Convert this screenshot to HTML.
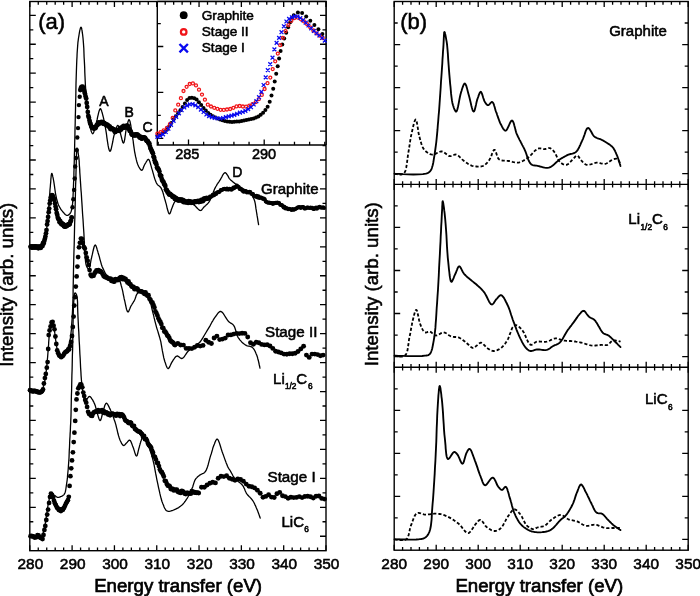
<!DOCTYPE html>
<html><head><meta charset="utf-8"><style>
html,body{margin:0;padding:0;background:#fff;}
svg{display:block;will-change:transform;}
text{font-family:"Liberation Sans", sans-serif;fill:#000;stroke:#000;stroke-width:0.55px;}
</style></head><body>
<svg width="700" height="596" viewBox="0 0 700 596">
<rect width="700" height="596" fill="#fff"/>
<path d="M29.80,550.7v-5.5M29.80,1.5v5.5M38.26,550.7v-3.2M38.26,1.5v3.2M46.73,550.7v-3.2M46.73,1.5v3.2M55.19,550.7v-3.2M55.19,1.5v3.2M63.65,550.7v-3.2M63.65,1.5v3.2M72.11,550.7v-5.5M72.11,1.5v5.5M80.58,550.7v-3.2M80.58,1.5v3.2M89.04,550.7v-3.2M89.04,1.5v3.2M97.50,550.7v-3.2M97.50,1.5v3.2M105.97,550.7v-3.2M105.97,1.5v3.2M114.43,550.7v-5.5M114.43,1.5v5.5M122.89,550.7v-3.2M122.89,1.5v3.2M131.35,550.7v-3.2M131.35,1.5v3.2M139.82,550.7v-3.2M139.82,1.5v3.2M148.28,550.7v-3.2M148.28,1.5v3.2M156.74,550.7v-5.5M156.74,1.5v5.5M165.21,550.7v-3.2M165.21,1.5v3.2M173.67,550.7v-3.2M173.67,1.5v3.2M182.13,550.7v-3.2M182.13,1.5v3.2M190.59,550.7v-3.2M190.59,1.5v3.2M199.06,550.7v-5.5M199.06,1.5v5.5M207.52,550.7v-3.2M207.52,1.5v3.2M215.98,550.7v-3.2M215.98,1.5v3.2M224.45,550.7v-3.2M224.45,1.5v3.2M232.91,550.7v-3.2M232.91,1.5v3.2M241.37,550.7v-5.5M241.37,1.5v5.5M249.83,550.7v-3.2M249.83,1.5v3.2M258.30,550.7v-3.2M258.30,1.5v3.2M266.76,550.7v-3.2M266.76,1.5v3.2M275.22,550.7v-3.2M275.22,1.5v3.2M283.69,550.7v-5.5M283.69,1.5v5.5M292.15,550.7v-3.2M292.15,1.5v3.2M300.61,550.7v-3.2M300.61,1.5v3.2M309.07,550.7v-3.2M309.07,1.5v3.2M317.54,550.7v-3.2M317.54,1.5v3.2M326.00,550.7v-5.5M326.00,1.5v5.5M29.8,536.23h6.0M326.0,536.23h-6.0M29.8,521.76h3.5M326.0,521.76h-3.5M29.8,507.29h6.0M326.0,507.29h-6.0M29.8,492.82h3.5M326.0,492.82h-3.5M29.8,478.35h6.0M326.0,478.35h-6.0M29.8,463.88h3.5M326.0,463.88h-3.5M29.8,449.41h6.0M326.0,449.41h-6.0M29.8,434.94h3.5M326.0,434.94h-3.5M29.8,420.47h6.0M326.0,420.47h-6.0M29.8,406.00h3.5M326.0,406.00h-3.5M29.8,391.53h6.0M326.0,391.53h-6.0M29.8,377.06h3.5M326.0,377.06h-3.5M29.8,362.59h6.0M326.0,362.59h-6.0M29.8,348.12h3.5M326.0,348.12h-3.5M29.8,333.65h6.0M326.0,333.65h-6.0M29.8,319.18h3.5M326.0,319.18h-3.5M29.8,304.71h6.0M326.0,304.71h-6.0M29.8,290.24h3.5M326.0,290.24h-3.5M29.8,275.77h6.0M326.0,275.77h-6.0M29.8,261.30h3.5M326.0,261.30h-3.5M29.8,246.83h6.0M326.0,246.83h-6.0M29.8,232.36h3.5M326.0,232.36h-3.5M29.8,217.89h6.0M326.0,217.89h-6.0M29.8,203.42h3.5M326.0,203.42h-3.5M29.8,188.95h6.0M326.0,188.95h-6.0M29.8,174.48h3.5M326.0,174.48h-3.5M29.8,160.01h6.0M326.0,160.01h-6.0M29.8,145.54h3.5M326.0,145.54h-3.5M29.8,131.07h6.0M326.0,131.07h-6.0M29.8,116.60h3.5M326.0,116.60h-3.5M29.8,102.13h6.0M326.0,102.13h-6.0M29.8,87.66h3.5M326.0,87.66h-3.5M29.8,73.19h6.0M326.0,73.19h-6.0M29.8,58.72h3.5M326.0,58.72h-3.5M29.8,44.25h6.0M326.0,44.25h-6.0M29.8,29.78h3.5M326.0,29.78h-3.5M29.8,15.31h6.0M326.0,15.31h-6.0" stroke="#000" stroke-width="1.3" fill="none"/>
<rect x="29.8" y="1.5" width="296.2" height="549.2" fill="none" stroke="#000" stroke-width="1.4"/>
<text x="30.4" y="568.6" font-size="15.4" font-weight="normal" text-anchor="middle" >280</text>
<text x="72.7" y="568.6" font-size="15.4" font-weight="normal" text-anchor="middle" >290</text>
<text x="115.0" y="568.6" font-size="15.4" font-weight="normal" text-anchor="middle" >300</text>
<text x="157.3" y="568.6" font-size="15.4" font-weight="normal" text-anchor="middle" >310</text>
<text x="199.7" y="568.6" font-size="15.4" font-weight="normal" text-anchor="middle" >320</text>
<text x="242.0" y="568.6" font-size="15.4" font-weight="normal" text-anchor="middle" >330</text>
<text x="284.3" y="568.6" font-size="15.4" font-weight="normal" text-anchor="middle" >340</text>
<text x="326.6" y="568.6" font-size="15.4" font-weight="normal" text-anchor="middle" >350</text>
<text x="94.2" y="592.0" font-size="18.65" font-weight="normal" text-anchor="start" style="stroke-width:0.7px">Energy transfer (eV)</text>
<text transform="translate(13.4,366.8) rotate(-90)" x="0" y="0" font-size="18.7">Intensity (arb. units)</text>
<text x="38.3" y="28.7" font-size="22" font-weight="normal" text-anchor="start" >(a)</text>
<polyline points="30.0,247.3 30.3,247.3 31.2,247.5 32.5,247.6 34.1,247.7 35.8,247.8 37.4,247.8 38.9,247.6 40.0,247.3 40.7,246.9 41.3,246.4 41.9,245.8 42.3,245.1 42.8,244.4 43.2,243.6 43.6,242.8 44.0,242.0 44.5,240.8 44.9,239.5 45.2,238.0 45.5,236.5 45.8,235.0 46.0,233.4 46.2,231.7 46.5,230.0 46.8,227.8 47.1,225.4 47.4,223.0 47.6,220.5 47.8,217.9 48.0,215.3 48.3,212.7 48.5,210.0 48.8,206.8 49.0,203.5 49.3,200.0 49.5,196.5 49.8,193.1 50.0,189.8 50.3,186.7 50.5,184.0 50.7,182.3 50.8,180.5 50.9,178.8 51.1,177.1 51.2,175.6 51.4,174.5 51.6,173.7 51.8,173.4 52.0,173.6 52.2,174.0 52.4,174.8 52.6,175.7 52.8,176.7 53.1,177.8 53.3,178.9 53.5,180.0 53.8,181.7 54.1,183.6 54.4,185.7 54.7,187.8 55.0,190.0 55.3,192.1 55.6,194.1 56.0,196.0 56.3,197.4 56.6,198.7 57.0,200.1 57.3,201.3 57.7,202.6 58.1,203.8 58.5,204.9 59.0,206.0 59.4,206.9 59.9,207.7 60.4,208.5 60.9,209.3 61.4,210.0 61.9,210.7 62.5,211.4 63.0,212.0 63.5,212.5 64.0,213.1 64.5,213.7 65.0,214.2 65.5,214.7 66.0,215.0 66.5,215.3 67.0,215.4 67.4,215.4 67.8,215.3 68.2,215.1 68.6,214.8 69.0,214.6 69.3,214.2 69.7,213.9 70.0,213.5 70.4,213.0 70.7,212.5 70.9,211.9 71.2,211.2 71.4,210.5 71.6,209.7 71.8,208.9 72.0,208.0 72.3,205.9 72.6,203.4 72.8,200.6 73.0,197.6 73.1,194.4 73.3,191.2 73.4,188.0 73.5,185.0 73.6,182.0 73.8,179.0 73.9,176.1 73.9,173.1 74.0,170.1 74.1,166.9 74.2,163.5 74.3,160.0 74.4,154.6 74.6,148.7 74.7,142.5 74.9,136.1 75.0,129.5 75.2,122.9 75.3,116.4 75.5,110.0 75.6,103.6 75.8,97.0 75.9,90.4 76.0,83.7 76.2,77.3 76.4,71.1 76.6,65.3 76.8,60.0 77.0,56.8 77.1,53.7 77.3,50.8 77.5,48.0 77.7,45.3 77.9,42.7 78.2,40.3 78.5,38.0 78.8,36.3 79.1,34.5 79.4,32.7 79.7,30.9 80.1,29.4 80.4,28.2 80.7,27.4 81.0,27.1 81.3,27.4 81.6,28.2 81.8,29.4 82.1,30.9 82.3,32.7 82.6,34.5 82.8,36.3 83.0,38.0 83.2,40.3 83.4,42.8 83.6,45.5 83.8,48.2 83.9,51.1 84.0,54.0 84.1,57.0 84.3,60.0 84.5,63.9 84.7,67.9 84.8,72.2 85.0,76.5 85.2,80.8 85.4,85.2 85.7,89.4 86.0,93.6 86.3,97.6 86.7,101.7 87.0,105.8 87.4,109.8 87.8,113.8 88.3,117.5 88.8,120.8 89.4,123.8 89.8,125.5 90.2,127.2 90.6,128.9 91.0,130.4 91.4,131.8 91.9,132.8 92.3,133.5 92.7,133.8 93.1,133.5 93.5,132.8 93.9,131.7 94.3,130.3 94.8,128.7 95.2,127.1 95.6,125.5 96.0,124.0 96.5,122.0 97.1,119.7 97.6,117.2 98.2,114.7 98.7,112.4 99.3,110.5 99.8,109.2 100.3,108.7 100.7,108.9 101.0,109.4 101.4,110.3 101.7,111.3 102.1,112.5 102.4,113.7 102.7,114.9 103.0,116.0 103.3,117.2 103.6,118.5 103.9,119.8 104.2,121.1 104.4,122.4 104.7,123.9 105.0,125.4 105.3,127.0 105.8,129.9 106.4,133.6 106.9,137.6 107.5,141.6 108.1,145.4 108.7,148.5 109.4,150.6 110.0,151.4 110.5,150.9 111.1,149.3 111.6,147.1 112.2,144.4 112.8,141.5 113.3,138.6 113.9,135.9 114.5,133.8 114.9,132.5 115.3,131.1 115.7,129.7 116.2,128.3 116.6,127.2 117.0,126.2 117.5,125.6 117.9,125.4 118.6,126.2 119.3,128.2 120.0,131.0 120.7,134.3 121.5,137.5 122.2,140.3 122.8,142.3 123.4,143.0 123.9,142.5 124.3,141.2 124.7,139.3 125.0,137.1 125.4,134.6 125.7,132.1 126.1,129.9 126.5,128.0 126.8,126.7 127.1,125.3 127.5,123.9 127.8,122.6 128.1,121.4 128.5,120.4 128.8,119.8 129.1,119.6 129.5,120.1 130.0,121.5 130.4,123.5 130.9,126.0 131.3,128.8 131.7,131.6 132.1,134.3 132.5,136.7 132.8,138.8 133.2,141.0 133.4,143.2 133.7,145.3 134.0,147.4 134.3,149.5 134.6,151.6 135.0,153.5 135.3,155.1 135.6,156.7 136.0,158.2 136.3,159.7 136.7,161.2 137.1,162.5 137.5,163.8 138.0,165.0 138.4,165.9 138.8,166.8 139.3,167.7 139.8,168.5 140.3,169.2 140.8,169.8 141.3,170.2 141.7,170.3 142.1,170.1 142.6,169.5 143.0,168.8 143.3,167.8 143.7,166.8 144.1,165.8 144.6,164.8 145.0,164.0 145.4,163.3 145.9,162.5 146.3,161.8 146.8,161.0 147.2,160.3 147.7,159.8 148.1,159.5 148.5,159.4 149.0,159.7 149.4,160.4 149.8,161.5 150.2,162.8 150.6,164.2 151.0,165.7 151.4,167.2 151.8,168.6 152.4,170.4 152.9,172.3 153.5,174.4 154.1,176.6 154.7,178.6 155.4,180.6 156.1,182.3 156.8,183.7 157.3,184.4 157.8,184.9 158.4,185.4 158.9,185.8 159.5,186.2 160.0,186.7 160.5,187.2 161.0,187.9 161.6,189.1 162.2,190.5 162.8,192.1 163.3,193.7 163.7,195.4 164.2,197.1 164.7,198.9 165.2,200.5 165.7,202.3 166.3,204.4 166.8,206.7 167.3,208.8 167.9,210.8 168.4,212.4 168.9,213.5 169.4,213.9 169.7,213.7 170.1,213.3 170.4,212.6 170.7,211.7 171.0,210.8 171.3,209.8 171.7,208.8 172.0,208.0 172.4,207.1 172.7,206.2 173.0,205.3 173.4,204.4 173.8,203.5 174.2,202.7 174.7,201.9 175.3,201.3 176.0,200.8 176.7,200.3 177.6,199.9 178.5,199.6 179.4,199.3 180.3,199.2 181.2,199.0 182.0,199.0 182.8,199.0 183.5,199.2 184.3,199.4 185.0,199.7 185.8,200.0 186.5,200.3 187.3,200.6 188.0,201.0 188.7,201.4 189.5,201.8 190.2,202.2 190.9,202.7 191.6,203.1 192.4,203.6 193.1,204.2 193.8,204.7 194.6,205.4 195.5,206.3 196.4,207.3 197.3,208.2 198.2,209.1 199.0,209.9 199.8,210.3 200.5,210.5 201.0,210.4 201.5,210.1 201.9,209.7 202.3,209.2 202.7,208.7 203.1,208.1 203.5,207.5 204.0,207.0 204.6,206.5 205.2,205.9 205.8,205.4 206.4,204.8 207.1,204.3 207.7,203.6 208.3,202.9 208.9,202.1 209.8,200.6 210.7,198.8 211.5,196.8 212.3,194.7 213.2,192.6 214.0,190.5 214.8,188.6 215.6,187.0 216.2,186.0 216.7,185.1 217.2,184.2 217.8,183.4 218.3,182.6 218.9,181.8 219.4,181.0 220.0,180.2 220.6,179.2 221.2,178.0 221.9,176.8 222.5,175.5 223.2,174.4 223.8,173.5 224.5,172.9 225.1,172.7 225.7,172.9 226.3,173.5 226.9,174.3 227.6,175.3 228.2,176.4 228.8,177.6 229.4,178.6 230.1,179.4 230.7,180.0 231.3,180.6 231.9,181.1 232.5,181.6 233.1,182.1 233.8,182.6 234.4,183.1 235.1,183.6 235.9,184.1 236.7,184.7 237.5,185.2 238.3,185.7 239.2,186.2 240.0,186.7 240.9,187.2 241.8,187.8 242.9,188.5 244.2,189.3 245.4,190.1 246.7,191.0 248.0,191.8 249.1,192.7 250.2,193.6 251.1,194.5 251.7,195.2 252.2,195.8 252.6,196.5 253.0,197.2 253.4,197.9 253.8,198.7 254.1,199.4 254.4,200.3 254.8,201.5 255.1,202.9 255.4,204.3 255.6,205.8 255.8,207.4 256.0,208.9 256.3,210.5 256.5,212.0 256.8,213.7 257.1,215.7 257.5,217.8 257.8,219.9 258.1,221.8 258.4,223.3 258.5,224.3 258.6,224.7" fill="none" stroke="#000" stroke-width="1.3" stroke-linejoin="round" stroke-linecap="round"/>
<polyline points="30.0,391.5 30.4,391.6 31.4,391.7 32.9,391.9 34.6,392.1 36.5,392.2 38.3,392.2 39.9,392.0 41.0,391.5 41.7,390.9 42.2,390.2 42.6,389.3 42.9,388.3 43.2,387.2 43.5,386.2 43.7,385.1 44.0,384.0 44.3,382.8 44.6,381.5 44.9,380.2 45.1,378.9 45.4,377.5 45.6,376.1 45.8,374.6 46.0,373.0 46.3,370.7 46.6,368.2 46.8,365.6 47.1,362.9 47.3,360.1 47.6,357.3 47.8,354.6 48.0,352.0 48.2,349.5 48.4,347.0 48.6,344.5 48.7,342.0 48.9,339.6 49.1,337.2 49.3,335.0 49.5,333.0 49.7,331.7 49.8,330.4 50.0,329.2 50.2,328.0 50.4,326.9 50.6,325.8 50.8,324.9 51.0,324.0 51.1,323.5 51.3,323.0 51.5,322.5 51.6,322.0 51.8,321.6 52.0,321.3 52.1,321.1 52.3,321.0 52.5,321.2 52.7,321.7 53.0,322.5 53.2,323.5 53.4,324.6 53.6,325.8 53.8,326.9 54.0,328.0 54.3,329.5 54.5,331.2 54.8,333.0 55.0,334.8 55.2,336.7 55.5,338.6 55.7,340.3 56.0,342.0 56.2,343.4 56.4,344.7 56.6,346.1 56.8,347.4 57.0,348.7 57.3,349.9 57.6,351.0 58.0,352.0 58.3,352.7 58.6,353.3 59.0,354.0 59.4,354.6 59.8,355.1 60.2,355.5 60.6,355.8 61.0,356.0 61.4,356.0 61.7,355.9 62.1,355.7 62.5,355.4 62.9,355.0 63.3,354.7 63.7,354.3 64.0,354.0 64.3,353.7 64.7,353.3 65.0,353.0 65.3,352.6 65.6,352.3 65.9,351.9 66.2,351.4 66.5,351.0 66.8,350.5 67.1,349.9 67.3,349.3 67.6,348.7 67.8,348.0 68.1,347.4 68.3,346.7 68.5,346.0 68.8,345.2 69.0,344.4 69.2,343.6 69.5,342.8 69.7,341.9 69.9,341.0 70.1,340.0 70.3,338.8 70.7,336.1 71.0,333.0 71.4,329.4 71.6,325.6 71.9,321.6 72.2,317.5 72.4,313.4 72.6,309.4 72.8,304.8 72.9,300.2 73.1,295.5 73.1,290.8 73.2,285.9 73.3,280.8 73.4,275.5 73.5,270.0 73.7,262.0 73.9,253.3 74.2,244.2 74.4,234.7 74.6,225.4 74.9,216.3 75.1,207.7 75.3,200.0 75.4,195.0 75.5,190.1 75.6,185.4 75.8,181.0 75.9,176.7 76.0,172.6 76.1,168.7 76.2,165.0 76.3,162.4 76.3,159.5 76.4,156.7 76.5,154.0 76.6,151.6 76.7,149.7 76.8,148.5 77.0,148.0 77.2,148.2 77.3,148.7 77.5,149.4 77.7,150.4 77.9,151.5 78.1,152.7 78.3,153.9 78.5,155.0 78.7,157.0 79.0,159.2 79.2,161.6 79.3,164.2 79.5,166.9 79.7,169.6 79.8,172.3 80.0,175.0 80.2,178.0 80.4,180.9 80.6,183.9 80.8,187.0 81.0,190.1 81.3,193.3 81.5,196.6 81.7,200.0 82.0,204.4 82.3,209.2 82.6,214.2 83.0,219.2 83.3,224.2 83.6,229.0 83.9,233.5 84.1,237.6 84.2,240.1 84.3,242.5 84.4,244.8 84.5,247.0 84.6,249.1 84.7,251.1 84.8,253.1 85.0,255.0 85.1,256.5 85.3,258.1 85.4,259.6 85.5,261.1 85.7,262.5 85.9,263.8 86.2,265.0 86.5,266.0 86.7,266.5 87.0,267.1 87.3,267.6 87.6,268.1 87.9,268.5 88.2,268.8 88.5,269.0 88.8,269.0 89.2,268.6 89.6,267.7 89.9,266.4 90.2,264.8 90.5,263.1 90.8,261.3 91.1,259.6 91.5,258.0 91.9,256.2 92.4,254.2 92.8,252.1 93.3,250.0 93.8,248.0 94.2,246.5 94.7,245.4 95.2,245.0 95.6,245.2 96.0,245.9 96.4,246.9 96.8,248.2 97.2,249.7 97.7,251.2 98.1,252.7 98.5,254.0 99.0,255.6 99.5,257.3 99.9,259.1 100.4,260.9 100.9,262.7 101.4,264.5 102.0,266.2 102.7,267.9 103.5,269.5 104.3,271.2 105.1,272.9 106.1,274.6 107.0,276.1 108.0,277.5 109.1,278.5 110.2,279.2 111.1,279.4 112.1,279.3 113.1,278.9 114.1,278.5 115.2,278.1 116.1,277.8 117.0,277.7 117.8,277.9 118.5,278.5 119.1,279.3 119.6,280.3 120.1,281.5 120.5,282.8 120.9,284.2 121.2,285.5 121.6,286.8 122.0,288.3 122.4,289.9 122.8,291.6 123.1,293.3 123.4,295.0 123.8,296.7 124.1,298.4 124.5,300.0 124.9,301.7 125.3,303.6 125.7,305.5 126.1,307.4 126.5,309.2 127.0,310.6 127.4,311.5 127.9,311.9 128.3,311.8 128.6,311.3 129.0,310.6 129.4,309.7 129.8,308.8 130.2,307.8 130.6,306.8 131.0,306.0 131.4,305.3 131.9,304.5 132.3,303.8 132.8,303.0 133.3,302.3 133.7,301.5 134.2,300.8 134.6,300.0 135.0,299.1 135.4,298.1 135.7,297.1 136.0,296.1 136.4,295.1 136.8,294.3 137.3,293.5 137.9,293.0 138.7,292.6 139.6,292.4 140.6,292.2 141.7,292.1 142.7,292.2 143.8,292.4 144.7,292.6 145.5,293.0 146.2,293.5 146.8,294.2 147.3,295.0 147.8,295.9 148.3,296.9 148.7,297.9 149.1,298.9 149.5,300.0 150.0,301.4 150.5,303.0 151.0,304.6 151.4,306.3 151.8,308.1 152.2,309.8 152.6,311.5 153.0,313.2 153.4,314.7 153.8,316.2 154.1,317.7 154.5,319.1 154.8,320.6 155.2,322.1 155.6,323.6 156.0,325.2 156.5,327.1 157.1,329.1 157.8,331.1 158.4,333.2 159.0,335.2 159.6,337.2 160.1,339.1 160.6,340.9 160.9,342.2 161.1,343.4 161.3,344.6 161.5,345.7 161.7,346.9 161.9,348.0 162.1,349.2 162.3,350.4 162.6,351.8 162.9,353.3 163.2,354.8 163.5,356.4 163.8,357.9 164.2,359.3 164.6,360.7 165.0,362.0 165.4,363.0 165.7,364.1 166.1,365.2 166.5,366.2 166.9,367.2 167.3,367.9 167.8,368.4 168.2,368.6 168.6,368.4 169.1,367.9 169.5,367.1 170.0,366.1 170.5,365.0 171.0,363.9 171.5,362.9 172.0,362.0 172.6,361.2 173.1,360.2 173.7,359.3 174.4,358.4 175.0,357.5 175.7,356.8 176.3,356.3 177.0,356.0 177.6,356.0 178.2,356.3 178.8,356.7 179.5,357.3 180.1,357.8 180.7,358.2 181.4,358.5 182.0,358.5 182.8,358.1 183.5,357.5 184.3,356.6 185.0,355.5 185.8,354.3 186.6,353.1 187.4,352.0 188.3,351.0 189.5,350.0 190.8,348.9 192.2,347.8 193.7,346.8 195.1,345.8 196.4,344.9 197.5,344.1 198.4,343.4 198.7,343.2 198.9,343.0 199.1,342.9 199.2,342.8 199.4,342.6 199.6,342.5 199.8,342.3 200.0,342.0 200.8,341.0 201.7,339.6 202.8,337.9 203.9,336.0 205.1,334.0 206.3,332.0 207.4,330.1 208.5,328.3 209.4,326.8 210.3,325.3 211.1,323.7 211.9,322.2 212.8,320.8 213.6,319.4 214.4,318.1 215.3,316.9 216.0,316.0 216.6,315.1 217.3,314.1 218.0,313.2 218.6,312.5 219.3,311.9 220.0,311.5 220.7,311.4 221.6,311.8 222.6,312.7 223.5,313.9 224.5,315.5 225.5,317.1 226.5,318.7 227.5,320.2 228.4,321.3 229.1,321.9 229.8,322.5 230.5,322.9 231.2,323.4 231.9,323.8 232.6,324.3 233.2,324.9 233.8,325.6 234.5,326.8 235.0,328.2 235.5,329.8 236.0,331.4 236.4,333.1 236.9,334.7 237.5,336.2 238.2,337.6 239.0,338.7 239.8,339.9 240.8,340.9 241.7,341.9 242.8,342.9 243.8,343.8 244.8,344.5 245.8,345.2 246.6,345.6 247.5,345.9 248.3,346.1 249.2,346.2 250.0,346.4 250.8,346.6 251.6,346.9 252.3,347.4 253.0,348.1 253.7,348.9 254.3,349.8 254.8,350.7 255.3,351.8 255.8,352.9 256.2,354.0 256.7,355.1 257.3,356.7 257.8,358.7 258.4,360.8 258.9,363.0 259.3,365.0 259.7,366.6 259.9,367.7 260.0,368.1" fill="none" stroke="#000" stroke-width="1.3" stroke-linejoin="round" stroke-linecap="round"/>
<polyline points="30.0,537.0 30.4,537.1 31.4,537.2 32.9,537.4 34.7,537.5 36.6,537.6 38.4,537.6 39.9,537.4 41.0,537.0 41.5,536.6 42.0,536.1 42.3,535.5 42.6,534.9 42.8,534.3 43.0,533.5 43.3,532.8 43.5,532.0 43.9,530.7 44.2,529.2 44.6,527.7 44.9,526.0 45.2,524.3 45.4,522.5 45.7,520.7 46.0,519.0 46.3,517.1 46.6,515.0 46.9,512.9 47.2,510.8 47.5,508.8 47.8,506.7 48.1,504.8 48.5,503.0 48.8,501.6 49.1,500.1 49.3,498.6 49.6,497.1 49.9,495.8 50.3,494.7 50.7,493.9 51.2,493.5 51.5,493.4 51.8,493.5 52.2,493.7 52.5,493.9 52.9,494.2 53.3,494.5 53.6,494.8 54.0,495.0 54.4,495.3 54.9,495.6 55.4,496.0 55.8,496.4 56.3,496.7 56.8,497.0 57.2,497.3 57.7,497.4 58.1,497.4 58.5,497.4 58.9,497.3 59.4,497.2 59.8,497.0 60.2,496.9 60.6,496.7 61.0,496.5 61.4,496.3 61.9,496.1 62.3,495.9 62.8,495.6 63.2,495.3 63.6,495.0 64.0,494.6 64.3,494.2 64.7,493.4 65.1,492.5 65.4,491.5 65.6,490.5 65.8,489.3 66.0,488.0 66.2,486.7 66.4,485.4 66.7,483.1 67.1,480.6 67.4,477.9 67.6,475.1 67.9,472.2 68.2,469.3 68.4,466.4 68.6,463.6 68.8,460.9 69.0,458.2 69.1,455.4 69.2,452.7 69.3,450.0 69.5,447.3 69.6,444.5 69.7,441.8 69.8,439.1 70.0,436.5 70.1,433.9 70.3,431.3 70.4,428.7 70.5,425.9 70.7,423.0 70.8,420.0 71.0,415.6 71.1,410.8 71.2,405.9 71.3,400.8 71.4,395.5 71.6,390.3 71.7,385.1 71.8,380.0 71.9,375.0 72.1,369.9 72.2,364.9 72.3,359.8 72.4,354.8 72.6,349.8 72.7,344.9 72.8,340.0 72.9,335.4 73.0,330.7 73.0,325.9 73.1,321.2 73.2,316.7 73.3,312.4 73.4,308.5 73.6,305.0 73.7,303.0 73.8,301.0 74.0,299.0 74.1,297.1 74.2,295.5 74.4,294.2 74.7,293.3 75.0,292.9 75.2,292.9 75.4,293.0 75.6,293.3 75.9,293.6 76.1,293.9 76.3,294.4 76.5,294.8 76.7,295.3 77.1,296.8 77.3,298.8 77.5,301.1 77.6,303.7 77.6,306.5 77.7,309.4 77.8,312.4 77.9,315.3 78.1,319.2 78.3,323.3 78.5,327.7 78.8,332.1 79.0,336.6 79.2,341.2 79.5,345.6 79.7,350.0 79.9,354.3 80.2,358.7 80.4,363.2 80.6,367.6 80.9,371.9 81.1,375.9 81.4,379.7 81.7,383.0 81.9,384.8 82.1,386.5 82.3,388.1 82.5,389.6 82.8,391.0 83.0,392.4 83.3,393.7 83.5,395.0 83.7,396.0 83.9,397.1 84.0,398.2 84.2,399.3 84.4,400.2 84.6,401.0 84.8,401.5 85.1,401.7 85.3,401.6 85.5,401.4 85.7,401.1 86.0,400.7 86.2,400.3 86.5,399.8 86.7,399.4 87.0,399.0 87.3,398.6 87.6,398.2 87.9,397.8 88.3,397.4 88.6,397.0 88.9,396.7 89.3,396.5 89.6,396.4 89.9,396.5 90.2,396.7 90.5,396.9 90.8,397.3 91.1,397.7 91.4,398.1 91.7,398.6 92.0,399.0 92.4,399.6 92.8,400.2 93.1,400.9 93.5,401.6 93.9,402.3 94.2,403.1 94.6,403.9 94.9,404.7 95.3,405.8 95.6,406.9 95.9,408.1 96.2,409.3 96.5,410.5 96.8,411.7 97.2,412.9 97.5,414.0 97.8,415.0 98.1,416.1 98.5,417.2 98.8,418.2 99.2,419.2 99.5,419.9 99.9,420.4 100.2,420.6 100.6,420.3 100.9,419.6 101.2,418.6 101.6,417.4 101.9,416.0 102.3,414.6 102.6,413.2 103.0,412.0 103.4,410.8 103.8,409.4 104.1,408.0 104.5,406.5 104.9,405.3 105.4,404.2 105.8,403.5 106.3,403.2 106.8,403.4 107.4,403.9 107.9,404.8 108.5,405.9 109.1,407.1 109.7,408.4 110.3,409.6 110.8,410.8 111.4,412.1 112.0,413.6 112.6,415.0 113.1,416.5 113.7,418.1 114.2,419.7 114.8,421.3 115.3,422.9 115.9,424.9 116.4,427.1 117.0,429.3 117.5,431.6 118.0,433.8 118.6,435.9 119.2,437.8 119.8,439.5 120.2,440.5 120.7,441.5 121.2,442.5 121.6,443.4 122.1,444.2 122.6,444.8 123.1,445.3 123.6,445.5 124.0,445.5 124.3,445.3 124.7,445.0 125.0,444.6 125.4,444.2 125.8,443.8 126.1,443.4 126.5,443.0 126.9,442.6 127.3,442.2 127.7,441.7 128.1,441.2 128.5,440.8 128.9,440.4 129.3,440.2 129.7,440.2 130.2,440.5 130.6,441.0 131.0,441.8 131.4,442.8 131.8,443.8 132.2,444.9 132.6,446.0 133.0,447.0 133.5,448.2 133.9,449.6 134.4,451.1 134.8,452.6 135.3,454.0 135.7,455.1 136.1,455.8 136.5,456.1 136.9,455.8 137.2,455.2 137.5,454.2 137.8,453.0 138.1,451.7 138.4,450.4 138.7,449.1 139.0,448.0 139.3,447.1 139.5,446.2 139.7,445.3 140.0,444.4 140.2,443.5 140.5,442.7 140.7,441.8 141.0,441.0 141.3,440.2 141.6,439.3 141.9,438.4 142.2,437.6 142.5,436.8 142.8,436.2 143.1,435.7 143.5,435.5 143.8,435.5 144.1,435.7 144.4,435.9 144.8,436.3 145.1,436.7 145.4,437.1 145.7,437.6 146.0,438.0 146.4,438.7 146.7,439.5 147.0,440.4 147.3,441.3 147.6,442.3 147.9,443.3 148.2,444.4 148.5,445.5 149.0,447.0 149.5,448.7 150.1,450.4 150.7,452.2 151.3,454.0 151.8,455.9 152.4,457.8 152.9,459.8 153.5,462.3 154.1,464.9 154.6,467.6 155.1,470.4 155.6,473.2 156.2,476.0 156.7,478.8 157.3,481.6 157.9,484.4 158.5,487.3 159.2,490.3 159.8,493.2 160.5,496.1 161.2,498.8 161.9,501.2 162.7,503.4 163.2,504.6 163.7,505.8 164.1,507.0 164.6,508.1 165.2,509.0 165.7,509.9 166.4,510.5 167.1,511.0 167.8,511.2 168.5,511.3 169.3,511.3 170.2,511.1 171.0,510.9 171.9,510.6 172.8,510.3 173.6,510.0 174.6,509.6 175.6,509.2 176.6,508.7 177.6,508.2 178.6,507.6 179.5,506.9 180.4,506.3 181.3,505.6 182.1,504.9 182.8,504.2 183.5,503.4 184.2,502.6 184.8,501.7 185.5,500.9 186.1,499.9 186.7,499.0 187.5,497.8 188.2,496.5 188.9,495.1 189.6,493.7 190.3,492.3 191.0,490.8 191.6,489.4 192.2,488.1 192.7,487.0 193.0,485.8 193.4,484.6 193.7,483.5 194.1,482.4 194.5,481.3 194.9,480.3 195.4,479.4 195.9,478.7 196.4,478.1 196.9,477.6 197.4,477.0 198.0,476.5 198.6,476.0 199.2,475.6 199.8,475.1 200.4,474.7 201.1,474.3 201.8,474.0 202.5,473.7 203.2,473.4 203.9,473.0 204.6,472.4 205.2,471.8 206.1,470.4 206.9,468.6 207.6,466.5 208.3,464.2 208.9,461.9 209.5,459.6 210.1,457.4 210.7,455.4 211.2,454.0 211.6,452.6 212.0,451.2 212.4,449.9 212.7,448.6 213.1,447.3 213.6,446.1 214.0,445.0 214.4,444.1 214.8,443.1 215.1,442.1 215.5,441.2 215.9,440.3 216.4,439.7 216.8,439.2 217.2,439.1 217.8,439.5 218.5,440.7 219.2,442.4 219.9,444.5 220.6,446.8 221.3,449.1 222.0,451.3 222.7,453.3 223.4,455.1 224.1,457.1 224.8,459.1 225.5,461.0 226.2,462.9 226.9,464.6 227.5,466.2 228.1,467.4 228.4,467.9 228.6,468.3 228.8,468.6 229.0,468.9 229.2,469.2 229.5,469.5 229.7,469.9 230.0,470.3 230.5,471.2 231.0,472.1 231.6,473.2 232.2,474.3 232.8,475.5 233.5,476.6 234.2,477.7 235.0,478.7 235.9,479.6 236.8,480.5 237.8,481.3 238.8,482.0 239.9,482.8 240.9,483.6 241.8,484.5 242.6,485.4 243.3,486.4 243.8,487.4 244.3,488.5 244.8,489.6 245.2,490.7 245.7,491.8 246.2,492.8 246.8,493.8 247.5,494.7 248.2,495.5 249.0,496.4 249.8,497.1 250.5,497.9 251.3,498.8 252.0,499.6 252.7,500.5 253.3,501.5 253.9,502.5 254.4,503.5 254.9,504.6 255.4,505.6 255.9,506.7 256.3,507.8 256.8,508.9 257.3,510.1 257.9,511.6 258.4,513.1 259.0,514.6 259.5,516.0 259.8,517.1 260.1,517.8 260.2,518.1" fill="none" stroke="#000" stroke-width="1.3" stroke-linejoin="round" stroke-linecap="round"/>
<g fill="#000"><circle cx="30.5" cy="246.8" r="2.4"/><circle cx="31.1" cy="246.4" r="2.4"/><circle cx="31.7" cy="247.7" r="2.4"/><circle cx="32.3" cy="246.4" r="2.4"/><circle cx="32.9" cy="247.5" r="2.4"/><circle cx="33.5" cy="247.2" r="2.4"/><circle cx="34.1" cy="246.5" r="2.4"/><circle cx="34.7" cy="247.6" r="2.4"/><circle cx="35.3" cy="246.5" r="2.4"/><circle cx="35.9" cy="247.5" r="2.4"/><circle cx="36.5" cy="246.6" r="2.4"/><circle cx="37.1" cy="246.6" r="2.4"/><circle cx="37.7" cy="247.4" r="2.4"/><circle cx="38.3" cy="248.3" r="2.4"/><circle cx="38.9" cy="246.6" r="2.4"/><circle cx="39.5" cy="246.7" r="2.4"/><circle cx="40.1" cy="247.5" r="2.4"/><circle cx="40.7" cy="247.9" r="2.4"/><circle cx="41.3" cy="246.6" r="2.4"/><circle cx="41.9" cy="245.4" r="2.4"/><circle cx="42.5" cy="246.0" r="2.4"/><circle cx="43.1" cy="242.8" r="2.4"/><circle cx="43.7" cy="243.6" r="2.4"/><circle cx="44.3" cy="240.9" r="2.4"/><circle cx="44.9" cy="238.8" r="2.4"/><circle cx="45.4" cy="236.4" r="2.4"/><circle cx="46.0" cy="233.3" r="2.4"/><circle cx="46.5" cy="230.1" r="2.4"/><circle cx="47.1" cy="224.4" r="2.4"/><circle cx="47.6" cy="221.1" r="2.4"/><circle cx="48.1" cy="216.9" r="2.4"/><circle cx="48.7" cy="212.2" r="2.4"/><circle cx="49.2" cy="208.6" r="2.4"/><circle cx="49.7" cy="203.6" r="2.4"/><circle cx="50.3" cy="200.3" r="2.4"/><circle cx="50.9" cy="197.2" r="2.4"/><circle cx="51.4" cy="196.0" r="2.4"/><circle cx="52.0" cy="195.1" r="2.4"/><circle cx="52.6" cy="195.6" r="2.4"/><circle cx="53.2" cy="197.5" r="2.4"/><circle cx="53.8" cy="198.6" r="2.4"/><circle cx="54.4" cy="199.9" r="2.4"/><circle cx="55.0" cy="203.4" r="2.4"/><circle cx="55.6" cy="206.6" r="2.4"/><circle cx="56.1" cy="209.2" r="2.4"/><circle cx="56.7" cy="213.0" r="2.4"/><circle cx="57.3" cy="215.0" r="2.4"/><circle cx="57.8" cy="217.8" r="2.4"/><circle cx="58.4" cy="219.1" r="2.4"/><circle cx="59.0" cy="219.5" r="2.4"/><circle cx="59.6" cy="222.3" r="2.4"/><circle cx="60.2" cy="221.2" r="2.4"/><circle cx="60.8" cy="222.7" r="2.4"/><circle cx="61.4" cy="224.2" r="2.4"/><circle cx="62.0" cy="223.4" r="2.4"/><circle cx="62.6" cy="224.8" r="2.4"/><circle cx="63.2" cy="224.2" r="2.4"/><circle cx="63.8" cy="226.0" r="2.4"/><circle cx="64.4" cy="226.5" r="2.4"/><circle cx="65.0" cy="226.1" r="2.4"/><circle cx="65.6" cy="226.7" r="2.4"/><circle cx="66.2" cy="225.2" r="2.4"/><circle cx="66.8" cy="225.9" r="2.4"/><circle cx="67.4" cy="225.3" r="2.4"/><circle cx="68.0" cy="224.9" r="2.4"/><circle cx="68.6" cy="224.1" r="2.4"/><circle cx="69.2" cy="224.5" r="2.4"/><circle cx="69.8" cy="224.0" r="2.4"/><circle cx="70.4" cy="221.7" r="2.4"/><circle cx="71.0" cy="220.7" r="2.4"/><circle cx="71.6" cy="217.4" r="2.4"/></g>
<g fill="#000"><circle cx="71.8" cy="217.6" r="2.2"/><circle cx="72.5" cy="207.3" r="2.2"/><circle cx="73.3" cy="199.3" r="2.2"/><circle cx="74.1" cy="189.9" r="2.2"/><circle cx="74.7" cy="178.5" r="2.2"/><circle cx="75.2" cy="166.5" r="2.2"/><circle cx="76.0" cy="158.0" r="2.2"/><circle cx="76.8" cy="150.1" r="2.2"/><circle cx="77.3" cy="137.5" r="2.2"/><circle cx="78.0" cy="128.1" r="2.2"/><circle cx="78.5" cy="117.1" r="2.2"/><circle cx="78.9" cy="105.1" r="2.2"/><circle cx="79.7" cy="96.7" r="2.2"/></g>
<g fill="#000"><circle cx="80.3" cy="90.1" r="2.4"/><circle cx="80.9" cy="88.1" r="2.4"/><circle cx="81.5" cy="86.9" r="2.4"/><circle cx="82.1" cy="87.8" r="2.4"/><circle cx="82.7" cy="86.6" r="2.4"/><circle cx="83.3" cy="88.5" r="2.4"/><circle cx="83.9" cy="89.8" r="2.4"/><circle cx="84.5" cy="92.0" r="2.4"/><circle cx="85.0" cy="93.8" r="2.4"/><circle cx="85.6" cy="96.4" r="2.4"/><circle cx="86.2" cy="98.5" r="2.4"/><circle cx="86.7" cy="103.0" r="2.4"/><circle cx="87.2" cy="106.9" r="2.4"/><circle cx="87.8" cy="111.9" r="2.4"/><circle cx="88.3" cy="115.9" r="2.4"/><circle cx="88.9" cy="117.7" r="2.4"/><circle cx="89.5" cy="120.6" r="2.4"/><circle cx="90.0" cy="122.7" r="2.4"/><circle cx="90.6" cy="124.2" r="2.4"/><circle cx="91.2" cy="126.0" r="2.4"/><circle cx="91.8" cy="127.4" r="2.4"/><circle cx="92.4" cy="127.4" r="2.4"/><circle cx="93.0" cy="127.4" r="2.4"/><circle cx="93.6" cy="128.6" r="2.4"/><circle cx="94.2" cy="128.2" r="2.4"/><circle cx="94.8" cy="128.1" r="2.4"/><circle cx="95.4" cy="128.2" r="2.4"/><circle cx="96.0" cy="126.7" r="2.4"/><circle cx="96.6" cy="125.5" r="2.4"/><circle cx="97.2" cy="125.0" r="2.4"/><circle cx="97.8" cy="124.5" r="2.4"/><circle cx="98.4" cy="122.3" r="2.4"/><circle cx="99.0" cy="123.7" r="2.4"/><circle cx="99.6" cy="122.9" r="2.4"/><circle cx="100.2" cy="122.9" r="2.4"/><circle cx="100.8" cy="122.8" r="2.4"/><circle cx="101.4" cy="122.0" r="2.4"/><circle cx="102.0" cy="122.4" r="2.4"/><circle cx="102.6" cy="122.1" r="2.4"/><circle cx="103.2" cy="123.8" r="2.4"/><circle cx="103.8" cy="122.8" r="2.4"/><circle cx="104.4" cy="123.2" r="2.4"/><circle cx="105.0" cy="123.9" r="2.4"/><circle cx="105.6" cy="124.2" r="2.4"/><circle cx="106.2" cy="125.0" r="2.4"/><circle cx="106.8" cy="124.7" r="2.4"/><circle cx="107.4" cy="125.0" r="2.4"/><circle cx="108.0" cy="125.7" r="2.4"/><circle cx="108.6" cy="126.0" r="2.4"/><circle cx="109.2" cy="127.0" r="2.4"/><circle cx="109.8" cy="126.6" r="2.4"/><circle cx="110.4" cy="129.0" r="2.4"/><circle cx="111.0" cy="128.8" r="2.4"/><circle cx="111.6" cy="128.1" r="2.4"/><circle cx="112.2" cy="128.7" r="2.4"/><circle cx="112.8" cy="129.3" r="2.4"/><circle cx="113.4" cy="129.7" r="2.4"/><circle cx="114.0" cy="129.5" r="2.4"/><circle cx="114.6" cy="131.5" r="2.4"/><circle cx="115.2" cy="132.1" r="2.4"/><circle cx="115.8" cy="131.0" r="2.4"/><circle cx="116.4" cy="131.2" r="2.4"/><circle cx="117.0" cy="130.3" r="2.4"/><circle cx="117.6" cy="130.2" r="2.4"/><circle cx="118.2" cy="130.6" r="2.4"/><circle cx="118.8" cy="130.0" r="2.4"/><circle cx="119.4" cy="130.9" r="2.4"/><circle cx="120.0" cy="128.7" r="2.4"/><circle cx="120.6" cy="127.9" r="2.4"/><circle cx="121.2" cy="129.6" r="2.4"/><circle cx="121.8" cy="128.2" r="2.4"/><circle cx="122.4" cy="127.0" r="2.4"/><circle cx="123.0" cy="127.6" r="2.4"/><circle cx="123.6" cy="126.0" r="2.4"/><circle cx="124.2" cy="126.9" r="2.4"/><circle cx="124.8" cy="127.7" r="2.4"/><circle cx="125.4" cy="127.2" r="2.4"/><circle cx="126.0" cy="126.7" r="2.4"/><circle cx="126.6" cy="125.6" r="2.4"/><circle cx="127.2" cy="126.0" r="2.4"/><circle cx="127.8" cy="126.0" r="2.4"/><circle cx="128.4" cy="128.2" r="2.4"/><circle cx="129.0" cy="128.8" r="2.4"/><circle cx="129.6" cy="130.7" r="2.4"/><circle cx="130.2" cy="130.9" r="2.4"/><circle cx="130.8" cy="131.6" r="2.4"/><circle cx="131.4" cy="133.8" r="2.4"/><circle cx="132.0" cy="134.7" r="2.4"/><circle cx="132.6" cy="134.8" r="2.4"/><circle cx="133.2" cy="135.0" r="2.4"/><circle cx="133.8" cy="135.3" r="2.4"/><circle cx="134.4" cy="135.4" r="2.4"/><circle cx="135.0" cy="134.4" r="2.4"/><circle cx="135.6" cy="135.3" r="2.4"/><circle cx="136.2" cy="135.1" r="2.4"/><circle cx="136.8" cy="134.5" r="2.4"/><circle cx="137.4" cy="134.6" r="2.4"/><circle cx="138.0" cy="135.4" r="2.4"/><circle cx="138.6" cy="135.6" r="2.4"/><circle cx="139.2" cy="136.8" r="2.4"/><circle cx="139.8" cy="137.7" r="2.4"/><circle cx="140.4" cy="136.7" r="2.4"/><circle cx="141.0" cy="138.1" r="2.4"/><circle cx="141.6" cy="138.5" r="2.4"/><circle cx="142.2" cy="138.6" r="2.4"/><circle cx="142.8" cy="137.4" r="2.4"/><circle cx="143.4" cy="137.3" r="2.4"/><circle cx="144.0" cy="137.6" r="2.4"/><circle cx="144.6" cy="137.7" r="2.4"/><circle cx="145.2" cy="138.1" r="2.4"/><circle cx="145.8" cy="139.5" r="2.4"/><circle cx="146.4" cy="140.6" r="2.4"/><circle cx="147.0" cy="141.0" r="2.4"/><circle cx="147.6" cy="140.8" r="2.4"/><circle cx="148.2" cy="142.2" r="2.4"/><circle cx="148.7" cy="143.6" r="2.4"/><circle cx="149.3" cy="143.3" r="2.4"/><circle cx="149.9" cy="146.1" r="2.4"/><circle cx="150.5" cy="148.3" r="2.4"/><circle cx="151.1" cy="149.5" r="2.4"/><circle cx="151.7" cy="151.0" r="2.4"/><circle cx="152.3" cy="152.1" r="2.4"/><circle cx="152.9" cy="153.3" r="2.4"/><circle cx="153.5" cy="156.6" r="2.4"/><circle cx="154.1" cy="157.4" r="2.4"/><circle cx="154.6" cy="160.2" r="2.4"/><circle cx="155.2" cy="162.4" r="2.4"/><circle cx="155.8" cy="162.7" r="2.4"/><circle cx="156.4" cy="164.4" r="2.4"/><circle cx="157.0" cy="167.4" r="2.4"/><circle cx="157.6" cy="168.4" r="2.4"/><circle cx="158.2" cy="168.7" r="2.4"/><circle cx="158.8" cy="170.1" r="2.4"/><circle cx="159.4" cy="171.6" r="2.4"/><circle cx="160.0" cy="174.9" r="2.4"/><circle cx="160.6" cy="176.0" r="2.4"/><circle cx="161.2" cy="175.8" r="2.4"/><circle cx="161.7" cy="178.8" r="2.4"/><circle cx="162.3" cy="180.6" r="2.4"/><circle cx="162.9" cy="181.3" r="2.4"/><circle cx="163.5" cy="182.1" r="2.4"/><circle cx="164.1" cy="184.1" r="2.4"/><circle cx="164.7" cy="184.7" r="2.4"/><circle cx="165.3" cy="186.0" r="2.4"/><circle cx="165.9" cy="189.6" r="2.4"/><circle cx="166.5" cy="190.0" r="2.4"/><circle cx="167.1" cy="190.7" r="2.4"/><circle cx="167.7" cy="192.6" r="2.4"/><circle cx="168.3" cy="192.3" r="2.4"/><circle cx="168.9" cy="194.1" r="2.4"/><circle cx="169.5" cy="194.7" r="2.4"/><circle cx="170.1" cy="193.9" r="2.4"/><circle cx="170.7" cy="194.6" r="2.4"/><circle cx="171.3" cy="195.2" r="2.4"/><circle cx="171.9" cy="195.6" r="2.4"/><circle cx="172.5" cy="196.8" r="2.4"/><circle cx="173.1" cy="196.5" r="2.4"/><circle cx="173.7" cy="197.2" r="2.4"/><circle cx="174.3" cy="196.8" r="2.4"/><circle cx="174.9" cy="199.0" r="2.4"/><circle cx="175.5" cy="197.9" r="2.4"/><circle cx="176.1" cy="198.4" r="2.4"/><circle cx="176.7" cy="199.0" r="2.4"/><circle cx="177.3" cy="200.0" r="2.4"/><circle cx="177.9" cy="199.1" r="2.4"/><circle cx="178.5" cy="200.5" r="2.4"/><circle cx="179.1" cy="199.7" r="2.4"/><circle cx="179.7" cy="200.1" r="2.4"/><circle cx="180.3" cy="200.3" r="2.4"/><circle cx="180.9" cy="199.3" r="2.4"/><circle cx="181.5" cy="200.5" r="2.4"/><circle cx="182.1" cy="200.1" r="2.4"/><circle cx="182.7" cy="199.9" r="2.4"/><circle cx="183.3" cy="202.0" r="2.4"/><circle cx="183.9" cy="200.7" r="2.4"/><circle cx="184.5" cy="201.6" r="2.4"/><circle cx="185.1" cy="202.3" r="2.4"/><circle cx="185.7" cy="202.0" r="2.4"/><circle cx="186.3" cy="201.6" r="2.4"/><circle cx="186.9" cy="202.1" r="2.4"/><circle cx="187.5" cy="202.3" r="2.4"/><circle cx="188.1" cy="202.9" r="2.4"/><circle cx="188.7" cy="201.2" r="2.4"/><circle cx="189.3" cy="202.3" r="2.4"/><circle cx="189.9" cy="201.6" r="2.4"/><circle cx="190.5" cy="201.6" r="2.4"/><circle cx="191.1" cy="202.8" r="2.4"/><circle cx="191.7" cy="202.1" r="2.4"/><circle cx="192.3" cy="202.1" r="2.4"/><circle cx="192.9" cy="202.6" r="2.4"/><circle cx="193.5" cy="202.8" r="2.4"/><circle cx="194.1" cy="201.6" r="2.4"/><circle cx="194.7" cy="202.0" r="2.4"/><circle cx="195.3" cy="201.6" r="2.4"/><circle cx="195.9" cy="201.5" r="2.4"/><circle cx="196.5" cy="201.9" r="2.4"/><circle cx="197.1" cy="201.2" r="2.4"/><circle cx="197.7" cy="201.3" r="2.4"/><circle cx="198.3" cy="201.0" r="2.4"/><circle cx="198.9" cy="202.0" r="2.4"/><circle cx="199.5" cy="201.3" r="2.4"/><circle cx="200.1" cy="201.6" r="2.4"/><circle cx="200.7" cy="201.6" r="2.4"/><circle cx="201.3" cy="199.8" r="2.4"/><circle cx="201.9" cy="200.4" r="2.4"/><circle cx="202.5" cy="201.2" r="2.4"/><circle cx="203.1" cy="200.8" r="2.4"/><circle cx="203.7" cy="198.9" r="2.4"/><circle cx="204.3" cy="198.7" r="2.4"/><circle cx="204.9" cy="199.3" r="2.4"/><circle cx="205.5" cy="198.3" r="2.4"/><circle cx="206.1" cy="198.5" r="2.4"/><circle cx="206.7" cy="197.9" r="2.4"/></g>
<g fill="#000"><circle cx="207.2" cy="199.1" r="2.0"/><circle cx="208.1" cy="198.7" r="2.0"/><circle cx="209.0" cy="198.4" r="2.0"/><circle cx="209.9" cy="196.4" r="2.0"/><circle cx="210.8" cy="196.9" r="2.0"/><circle cx="211.7" cy="196.2" r="2.0"/><circle cx="212.6" cy="194.7" r="2.0"/><circle cx="213.5" cy="195.5" r="2.0"/><circle cx="214.4" cy="195.1" r="2.0"/><circle cx="215.3" cy="193.2" r="2.0"/><circle cx="216.2" cy="194.0" r="2.0"/><circle cx="217.1" cy="192.4" r="2.0"/><circle cx="218.0" cy="192.0" r="2.0"/><circle cx="218.9" cy="192.3" r="2.0"/><circle cx="219.8" cy="191.5" r="2.0"/><circle cx="220.7" cy="189.9" r="2.0"/><circle cx="221.6" cy="189.9" r="2.0"/><circle cx="222.5" cy="189.7" r="2.0"/><circle cx="223.4" cy="189.1" r="2.0"/><circle cx="224.3" cy="188.7" r="2.0"/><circle cx="225.2" cy="188.9" r="2.0"/><circle cx="226.1" cy="189.6" r="2.0"/><circle cx="227.0" cy="188.5" r="2.0"/><circle cx="227.9" cy="189.5" r="2.0"/><circle cx="228.8" cy="189.4" r="2.0"/><circle cx="229.7" cy="188.7" r="2.0"/><circle cx="230.6" cy="189.3" r="2.0"/><circle cx="231.5" cy="189.7" r="2.0"/><circle cx="232.4" cy="189.1" r="2.0"/><circle cx="233.3" cy="187.5" r="2.0"/><circle cx="234.2" cy="188.2" r="2.0"/><circle cx="235.1" cy="187.0" r="2.0"/><circle cx="236.0" cy="187.0" r="2.0"/><circle cx="236.9" cy="185.6" r="2.0"/><circle cx="237.8" cy="186.5" r="2.0"/><circle cx="238.7" cy="186.9" r="2.0"/><circle cx="239.6" cy="189.1" r="2.0"/><circle cx="240.5" cy="189.0" r="2.0"/><circle cx="241.4" cy="189.4" r="2.0"/><circle cx="242.3" cy="190.4" r="2.0"/><circle cx="243.2" cy="191.6" r="2.0"/><circle cx="244.1" cy="191.7" r="2.0"/><circle cx="245.0" cy="190.9" r="2.0"/><circle cx="245.9" cy="190.9" r="2.0"/><circle cx="246.8" cy="192.5" r="2.0"/><circle cx="247.7" cy="192.1" r="2.0"/><circle cx="248.6" cy="192.6" r="2.0"/><circle cx="249.5" cy="191.8" r="2.0"/><circle cx="250.4" cy="192.1" r="2.0"/><circle cx="251.3" cy="193.7" r="2.0"/><circle cx="252.2" cy="193.9" r="2.0"/><circle cx="253.1" cy="193.9" r="2.0"/><circle cx="254.0" cy="196.1" r="2.0"/><circle cx="254.9" cy="196.1" r="2.0"/><circle cx="255.8" cy="196.8" r="2.0"/><circle cx="256.7" cy="195.8" r="2.0"/><circle cx="257.6" cy="197.5" r="2.0"/><circle cx="258.5" cy="196.3" r="2.0"/><circle cx="259.4" cy="197.9" r="2.0"/><circle cx="260.3" cy="197.4" r="2.0"/><circle cx="261.2" cy="197.4" r="2.0"/><circle cx="262.1" cy="198.0" r="2.0"/><circle cx="263.0" cy="199.1" r="2.0"/><circle cx="263.9" cy="198.4" r="2.0"/><circle cx="264.8" cy="199.2" r="2.0"/><circle cx="265.7" cy="201.6" r="2.0"/><circle cx="266.6" cy="202.1" r="2.0"/><circle cx="267.5" cy="202.4" r="2.0"/><circle cx="268.4" cy="202.7" r="2.0"/><circle cx="269.3" cy="202.6" r="2.0"/><circle cx="270.2" cy="202.9" r="2.0"/><circle cx="271.1" cy="203.1" r="2.0"/><circle cx="272.0" cy="203.1" r="2.0"/><circle cx="272.9" cy="203.9" r="2.0"/><circle cx="273.8" cy="203.0" r="2.0"/><circle cx="274.7" cy="203.3" r="2.0"/><circle cx="275.6" cy="202.7" r="2.0"/><circle cx="276.5" cy="203.1" r="2.0"/><circle cx="277.4" cy="202.5" r="2.0"/><circle cx="278.3" cy="203.1" r="2.0"/><circle cx="279.2" cy="203.0" r="2.0"/><circle cx="280.1" cy="204.7" r="2.0"/><circle cx="281.0" cy="204.9" r="2.0"/><circle cx="281.9" cy="204.9" r="2.0"/><circle cx="282.7" cy="206.1" r="2.0"/><circle cx="283.6" cy="207.6" r="2.0"/><circle cx="284.5" cy="206.7" r="2.0"/><circle cx="285.4" cy="208.4" r="2.0"/><circle cx="286.3" cy="208.1" r="2.0"/><circle cx="287.2" cy="208.5" r="2.0"/><circle cx="288.1" cy="209.3" r="2.0"/><circle cx="289.0" cy="208.7" r="2.0"/><circle cx="289.9" cy="209.0" r="2.0"/><circle cx="290.8" cy="209.4" r="2.0"/><circle cx="291.7" cy="210.0" r="2.0"/><circle cx="292.6" cy="208.9" r="2.0"/><circle cx="293.5" cy="209.8" r="2.0"/><circle cx="294.4" cy="209.4" r="2.0"/><circle cx="295.3" cy="209.1" r="2.0"/><circle cx="296.2" cy="208.5" r="2.0"/><circle cx="297.1" cy="208.1" r="2.0"/><circle cx="298.0" cy="207.3" r="2.0"/><circle cx="298.9" cy="207.2" r="2.0"/><circle cx="299.8" cy="207.0" r="2.0"/><circle cx="300.7" cy="208.1" r="2.0"/><circle cx="301.6" cy="207.2" r="2.0"/><circle cx="302.5" cy="207.1" r="2.0"/><circle cx="303.4" cy="207.0" r="2.0"/><circle cx="304.3" cy="208.4" r="2.0"/><circle cx="305.2" cy="208.5" r="2.0"/><circle cx="306.1" cy="208.3" r="2.0"/><circle cx="307.0" cy="207.6" r="2.0"/><circle cx="307.9" cy="207.6" r="2.0"/><circle cx="308.8" cy="207.8" r="2.0"/><circle cx="309.7" cy="208.1" r="2.0"/><circle cx="310.6" cy="207.6" r="2.0"/><circle cx="311.5" cy="208.1" r="2.0"/><circle cx="312.4" cy="207.7" r="2.0"/><circle cx="313.3" cy="208.9" r="2.0"/><circle cx="314.2" cy="208.9" r="2.0"/><circle cx="315.1" cy="208.1" r="2.0"/><circle cx="316.0" cy="207.5" r="2.0"/><circle cx="316.9" cy="208.7" r="2.0"/><circle cx="317.8" cy="207.5" r="2.0"/><circle cx="318.7" cy="207.5" r="2.0"/><circle cx="319.6" cy="206.8" r="2.0"/><circle cx="320.5" cy="207.5" r="2.0"/><circle cx="321.4" cy="207.6" r="2.0"/><circle cx="322.3" cy="207.7" r="2.0"/><circle cx="323.2" cy="207.3" r="2.0"/><circle cx="324.1" cy="208.0" r="2.0"/></g>
<g fill="#000"><circle cx="30.0" cy="390.2" r="2.4"/><circle cx="31.0" cy="391.0" r="2.4"/><circle cx="32.0" cy="390.7" r="2.4"/><circle cx="33.0" cy="391.6" r="2.4"/><circle cx="34.0" cy="390.8" r="2.4"/><circle cx="35.0" cy="390.9" r="2.4"/><circle cx="36.0" cy="391.6" r="2.4"/><circle cx="37.0" cy="391.5" r="2.4"/><circle cx="38.0" cy="392.3" r="2.4"/><circle cx="39.0" cy="392.1" r="2.4"/><circle cx="40.0" cy="392.5" r="2.4"/><circle cx="41.0" cy="391.9" r="2.4"/><circle cx="42.0" cy="391.3" r="2.4"/><circle cx="43.0" cy="389.5" r="2.4"/><circle cx="43.9" cy="383.5" r="2.4"/><circle cx="44.9" cy="378.1" r="2.4"/><circle cx="45.8" cy="374.0" r="2.4"/><circle cx="46.8" cy="367.7" r="2.4"/><circle cx="47.6" cy="362.1" r="2.4"/><circle cx="48.2" cy="349.0" r="2.4"/><circle cx="48.7" cy="335.1" r="2.4"/><circle cx="49.6" cy="330.4" r="2.4"/><circle cx="50.6" cy="326.5" r="2.4"/><circle cx="51.6" cy="322.5" r="2.4"/><circle cx="52.6" cy="321.8" r="2.4"/><circle cx="53.6" cy="325.7" r="2.4"/><circle cx="54.5" cy="329.3" r="2.4"/><circle cx="55.4" cy="336.5" r="2.4"/><circle cx="56.3" cy="344.0" r="2.4"/><circle cx="57.2" cy="350.4" r="2.4"/><circle cx="58.2" cy="353.2" r="2.4"/><circle cx="59.2" cy="355.4" r="2.4"/><circle cx="60.2" cy="356.1" r="2.4"/><circle cx="61.2" cy="357.2" r="2.4"/><circle cx="62.2" cy="356.3" r="2.4"/><circle cx="63.2" cy="355.6" r="2.4"/><circle cx="64.2" cy="353.7" r="2.4"/><circle cx="65.2" cy="352.3" r="2.4"/><circle cx="66.2" cy="351.7" r="2.4"/><circle cx="67.2" cy="351.2" r="2.4"/><circle cx="68.2" cy="349.3" r="2.4"/><circle cx="69.1" cy="349.4" r="2.4"/><circle cx="70.1" cy="346.1" r="2.4"/><circle cx="71.1" cy="341.9" r="2.4"/><circle cx="72.0" cy="336.0" r="2.4"/><circle cx="72.8" cy="326.9" r="2.4"/><circle cx="73.6" cy="316.6" r="2.4"/><circle cx="74.3" cy="305.6" r="2.4"/><circle cx="75.1" cy="297.2" r="2.4"/><circle cx="75.8" cy="286.6" r="2.4"/><circle cx="76.6" cy="276.4" r="2.4"/><circle cx="77.4" cy="266.6" r="2.4"/><circle cx="78.1" cy="257.1" r="2.4"/><circle cx="79.0" cy="247.3" r="2.4"/><circle cx="79.9" cy="242.8" r="2.4"/><circle cx="80.9" cy="238.6" r="2.4"/><circle cx="81.9" cy="238.9" r="2.4"/><circle cx="82.8" cy="242.9" r="2.4"/><circle cx="83.8" cy="246.9" r="2.4"/><circle cx="84.8" cy="248.5" r="2.4"/><circle cx="85.8" cy="253.0" r="2.4"/><circle cx="86.7" cy="257.4" r="2.4"/><circle cx="87.7" cy="260.8" r="2.4"/><circle cx="88.7" cy="264.9" r="2.4"/><circle cx="89.6" cy="270.1" r="2.4"/><circle cx="90.6" cy="274.7" r="2.4"/><circle cx="91.6" cy="276.2" r="2.4"/><circle cx="92.6" cy="275.9" r="2.4"/><circle cx="93.6" cy="275.7" r="2.4"/><circle cx="94.6" cy="273.4" r="2.4"/><circle cx="95.5" cy="271.8" r="2.4"/><circle cx="96.5" cy="270.5" r="2.4"/><circle cx="97.5" cy="271.0" r="2.4"/><circle cx="98.5" cy="270.2" r="2.4"/><circle cx="99.5" cy="271.5" r="2.4"/><circle cx="100.5" cy="271.1" r="2.4"/><circle cx="101.5" cy="272.2" r="2.4"/><circle cx="102.5" cy="273.8" r="2.4"/><circle cx="103.5" cy="275.8" r="2.4"/><circle cx="104.5" cy="276.7" r="2.4"/><circle cx="105.5" cy="277.3" r="2.4"/><circle cx="106.5" cy="277.0" r="2.4"/><circle cx="107.5" cy="278.1" r="2.4"/><circle cx="108.5" cy="278.6" r="2.4"/><circle cx="109.5" cy="279.1" r="2.4"/><circle cx="110.5" cy="278.7" r="2.4"/><circle cx="111.5" cy="280.9" r="2.4"/><circle cx="112.5" cy="279.6" r="2.4"/><circle cx="113.5" cy="281.6" r="2.4"/><circle cx="114.5" cy="281.5" r="2.4"/><circle cx="115.5" cy="279.1" r="2.4"/><circle cx="116.5" cy="279.7" r="2.4"/><circle cx="117.5" cy="280.1" r="2.4"/><circle cx="118.5" cy="279.9" r="2.4"/><circle cx="119.5" cy="278.2" r="2.4"/><circle cx="120.5" cy="277.4" r="2.4"/><circle cx="121.5" cy="277.2" r="2.4"/><circle cx="122.5" cy="279.2" r="2.4"/><circle cx="123.5" cy="277.8" r="2.4"/><circle cx="124.5" cy="279.3" r="2.4"/><circle cx="125.5" cy="278.9" r="2.4"/><circle cx="126.5" cy="280.6" r="2.4"/><circle cx="127.5" cy="282.5" r="2.4"/><circle cx="128.5" cy="281.3" r="2.4"/><circle cx="129.5" cy="283.9" r="2.4"/><circle cx="130.5" cy="284.3" r="2.4"/><circle cx="131.5" cy="286.3" r="2.4"/><circle cx="132.5" cy="286.9" r="2.4"/><circle cx="133.5" cy="286.8" r="2.4"/><circle cx="134.5" cy="289.2" r="2.4"/><circle cx="135.5" cy="288.9" r="2.4"/><circle cx="136.5" cy="288.5" r="2.4"/><circle cx="137.5" cy="289.0" r="2.4"/><circle cx="138.5" cy="290.7" r="2.4"/><circle cx="139.5" cy="291.2" r="2.4"/><circle cx="140.5" cy="291.3" r="2.4"/><circle cx="141.5" cy="291.3" r="2.4"/><circle cx="142.5" cy="292.2" r="2.4"/><circle cx="143.5" cy="292.4" r="2.4"/><circle cx="144.5" cy="293.9" r="2.4"/><circle cx="145.5" cy="292.3" r="2.4"/><circle cx="146.5" cy="294.7" r="2.4"/><circle cx="147.5" cy="295.8" r="2.4"/><circle cx="148.5" cy="295.2" r="2.4"/><circle cx="149.5" cy="298.7" r="2.4"/><circle cx="150.5" cy="299.9" r="2.4"/><circle cx="151.5" cy="302.2" r="2.4"/><circle cx="152.5" cy="302.7" r="2.4"/><circle cx="153.5" cy="305.1" r="2.4"/><circle cx="154.4" cy="307.5" r="2.4"/><circle cx="155.4" cy="311.5" r="2.4"/><circle cx="156.4" cy="313.1" r="2.4"/><circle cx="157.4" cy="315.4" r="2.4"/><circle cx="158.4" cy="318.3" r="2.4"/><circle cx="159.4" cy="320.4" r="2.4"/><circle cx="160.4" cy="322.0" r="2.4"/><circle cx="161.3" cy="324.1" r="2.4"/><circle cx="162.3" cy="327.7" r="2.4"/><circle cx="163.3" cy="328.2" r="2.4"/><circle cx="164.3" cy="331.5" r="2.4"/><circle cx="165.3" cy="331.6" r="2.4"/><circle cx="166.3" cy="333.3" r="2.4"/><circle cx="167.3" cy="335.5" r="2.4"/><circle cx="168.3" cy="336.2" r="2.4"/><circle cx="169.3" cy="338.0" r="2.4"/><circle cx="170.3" cy="340.5" r="2.4"/><circle cx="171.3" cy="341.4" r="2.4"/><circle cx="172.3" cy="342.2" r="2.4"/><circle cx="173.3" cy="342.8" r="2.4"/><circle cx="174.3" cy="344.4" r="2.4"/></g>
<g fill="#000"><circle cx="175.0" cy="345.1" r="2.45"/><circle cx="177.8" cy="343.5" r="2.45"/><circle cx="180.6" cy="345.0" r="2.45"/><circle cx="183.4" cy="345.1" r="2.45"/><circle cx="186.2" cy="348.4" r="2.45"/><circle cx="189.0" cy="348.4" r="2.45"/><circle cx="191.8" cy="348.6" r="2.45"/><circle cx="194.6" cy="347.3" r="2.45"/><circle cx="197.4" cy="345.5" r="2.45"/><circle cx="200.2" cy="346.1" r="2.45"/><circle cx="203.0" cy="345.4" r="2.45"/><circle cx="205.8" cy="340.2" r="2.45"/><circle cx="208.6" cy="342.3" r="2.45"/><circle cx="211.4" cy="343.5" r="2.45"/><circle cx="214.1" cy="338.0" r="2.45"/><circle cx="216.9" cy="336.1" r="2.45"/><circle cx="219.7" cy="339.6" r="2.45"/><circle cx="222.5" cy="339.1" r="2.45"/><circle cx="225.3" cy="338.1" r="2.45"/><circle cx="228.1" cy="335.0" r="2.45"/><circle cx="230.9" cy="334.9" r="2.45"/><circle cx="233.7" cy="334.1" r="2.45"/><circle cx="236.5" cy="333.4" r="2.45"/><circle cx="239.3" cy="333.6" r="2.45"/><circle cx="242.1" cy="333.2" r="2.45"/><circle cx="244.9" cy="333.4" r="2.45"/><circle cx="247.7" cy="337.0" r="2.45"/><circle cx="250.5" cy="342.8" r="2.45"/><circle cx="253.3" cy="344.3" r="2.45"/><circle cx="256.1" cy="342.3" r="2.45"/><circle cx="258.8" cy="342.7" r="2.45"/><circle cx="261.6" cy="344.4" r="2.45"/><circle cx="264.4" cy="344.9" r="2.45"/><circle cx="267.2" cy="344.7" r="2.45"/><circle cx="270.0" cy="346.0" r="2.45"/><circle cx="272.8" cy="348.4" r="2.45"/><circle cx="275.6" cy="351.3" r="2.45"/><circle cx="278.4" cy="352.0" r="2.45"/><circle cx="281.2" cy="352.9" r="2.45"/><circle cx="284.0" cy="354.1" r="2.45"/><circle cx="286.8" cy="354.3" r="2.45"/><circle cx="289.6" cy="353.8" r="2.45"/><circle cx="292.4" cy="353.7" r="2.45"/><circle cx="295.2" cy="353.2" r="2.45"/><circle cx="298.0" cy="351.5" r="2.45"/><circle cx="300.8" cy="348.9" r="2.45"/><circle cx="303.6" cy="346.3" r="2.45"/><circle cx="306.4" cy="355.1" r="2.45"/><circle cx="309.2" cy="357.4" r="2.45"/><circle cx="312.0" cy="354.1" r="2.45"/><circle cx="314.8" cy="354.1" r="2.45"/><circle cx="317.6" cy="354.6" r="2.45"/><circle cx="320.4" cy="355.8" r="2.45"/><circle cx="323.1" cy="355.1" r="2.45"/></g>
<g fill="#000"><circle cx="30.5" cy="536.2" r="2.4"/><circle cx="31.5" cy="536.0" r="2.4"/><circle cx="32.5" cy="536.3" r="2.4"/><circle cx="33.5" cy="536.3" r="2.4"/><circle cx="34.5" cy="537.5" r="2.4"/><circle cx="35.5" cy="537.2" r="2.4"/><circle cx="36.5" cy="537.2" r="2.4"/><circle cx="37.5" cy="535.2" r="2.4"/><circle cx="38.5" cy="535.3" r="2.4"/><circle cx="39.5" cy="537.0" r="2.4"/><circle cx="40.5" cy="537.8" r="2.4"/><circle cx="41.5" cy="537.9" r="2.4"/><circle cx="42.5" cy="539.0" r="2.4"/><circle cx="43.5" cy="534.9" r="2.4"/><circle cx="44.4" cy="529.9" r="2.4"/><circle cx="45.3" cy="525.9" r="2.4"/><circle cx="46.3" cy="520.0" r="2.4"/><circle cx="47.2" cy="514.6" r="2.4"/><circle cx="48.1" cy="509.6" r="2.4"/><circle cx="49.1" cy="502.9" r="2.4"/><circle cx="50.0" cy="496.9" r="2.4"/><circle cx="51.0" cy="493.6" r="2.4"/><circle cx="52.0" cy="495.0" r="2.4"/><circle cx="53.0" cy="497.4" r="2.4"/><circle cx="54.0" cy="500.7" r="2.4"/><circle cx="54.9" cy="503.2" r="2.4"/><circle cx="55.9" cy="505.2" r="2.4"/><circle cx="56.9" cy="507.5" r="2.4"/><circle cx="57.9" cy="508.5" r="2.4"/><circle cx="58.9" cy="510.0" r="2.4"/><circle cx="59.9" cy="509.4" r="2.4"/><circle cx="60.9" cy="511.0" r="2.4"/><circle cx="61.9" cy="509.1" r="2.4"/><circle cx="62.9" cy="509.8" r="2.4"/><circle cx="63.9" cy="508.0" r="2.4"/><circle cx="64.9" cy="505.9" r="2.4"/><circle cx="65.9" cy="503.7" r="2.4"/><circle cx="66.9" cy="501.9" r="2.4"/><circle cx="67.9" cy="500.2" r="2.4"/><circle cx="68.8" cy="496.8" r="2.4"/><circle cx="69.6" cy="485.9" r="2.4"/><circle cx="70.4" cy="476.2" r="2.4"/><circle cx="71.2" cy="468.3" r="2.4"/><circle cx="72.0" cy="460.4" r="2.4"/><circle cx="72.9" cy="452.3" r="2.4"/><circle cx="73.7" cy="442.1" r="2.4"/><circle cx="74.4" cy="432.7" r="2.4"/><circle cx="75.2" cy="420.9" r="2.4"/><circle cx="75.8" cy="409.8" r="2.4"/><circle cx="76.5" cy="399.4" r="2.4"/><circle cx="77.4" cy="393.5" r="2.4"/><circle cx="78.3" cy="388.3" r="2.4"/><circle cx="79.3" cy="386.7" r="2.4"/><circle cx="80.3" cy="384.4" r="2.4"/><circle cx="81.3" cy="384.6" r="2.4"/><circle cx="82.3" cy="387.3" r="2.4"/><circle cx="83.3" cy="392.6" r="2.4"/><circle cx="84.2" cy="396.1" r="2.4"/><circle cx="85.2" cy="400.1" r="2.4"/><circle cx="86.2" cy="402.7" r="2.4"/><circle cx="87.1" cy="406.9" r="2.4"/><circle cx="88.1" cy="411.8" r="2.4"/><circle cx="89.1" cy="413.9" r="2.4"/><circle cx="90.1" cy="414.4" r="2.4"/><circle cx="91.1" cy="415.7" r="2.4"/><circle cx="92.1" cy="415.9" r="2.4"/><circle cx="93.1" cy="413.5" r="2.4"/><circle cx="94.1" cy="412.1" r="2.4"/><circle cx="95.1" cy="411.9" r="2.4"/><circle cx="96.1" cy="411.5" r="2.4"/><circle cx="97.1" cy="411.7" r="2.4"/><circle cx="98.1" cy="410.2" r="2.4"/><circle cx="99.1" cy="411.5" r="2.4"/><circle cx="100.1" cy="411.3" r="2.4"/><circle cx="101.1" cy="410.7" r="2.4"/><circle cx="102.1" cy="410.2" r="2.4"/><circle cx="103.1" cy="412.4" r="2.4"/><circle cx="104.1" cy="411.4" r="2.4"/><circle cx="105.1" cy="413.2" r="2.4"/><circle cx="106.1" cy="412.4" r="2.4"/><circle cx="107.1" cy="412.9" r="2.4"/><circle cx="108.1" cy="414.5" r="2.4"/><circle cx="109.1" cy="413.6" r="2.4"/><circle cx="110.1" cy="415.3" r="2.4"/><circle cx="111.1" cy="414.3" r="2.4"/><circle cx="112.1" cy="413.6" r="2.4"/><circle cx="113.1" cy="413.8" r="2.4"/><circle cx="114.1" cy="414.3" r="2.4"/><circle cx="115.1" cy="415.0" r="2.4"/><circle cx="116.1" cy="415.7" r="2.4"/><circle cx="117.1" cy="413.8" r="2.4"/><circle cx="118.1" cy="414.5" r="2.4"/><circle cx="119.1" cy="414.1" r="2.4"/><circle cx="120.1" cy="416.0" r="2.4"/><circle cx="121.1" cy="414.3" r="2.4"/><circle cx="122.1" cy="414.6" r="2.4"/><circle cx="123.1" cy="415.6" r="2.4"/><circle cx="124.1" cy="417.5" r="2.4"/><circle cx="125.1" cy="419.9" r="2.4"/><circle cx="126.1" cy="420.9" r="2.4"/><circle cx="127.1" cy="421.3" r="2.4"/><circle cx="128.1" cy="422.6" r="2.4"/><circle cx="129.1" cy="423.2" r="2.4"/><circle cx="130.1" cy="422.4" r="2.4"/><circle cx="131.1" cy="422.9" r="2.4"/><circle cx="132.1" cy="425.6" r="2.4"/><circle cx="133.0" cy="426.3" r="2.4"/><circle cx="134.0" cy="426.0" r="2.4"/><circle cx="135.0" cy="429.0" r="2.4"/><circle cx="136.0" cy="429.6" r="2.4"/><circle cx="137.0" cy="430.6" r="2.4"/><circle cx="138.0" cy="431.3" r="2.4"/><circle cx="139.0" cy="431.6" r="2.4"/><circle cx="140.0" cy="431.9" r="2.4"/><circle cx="141.0" cy="433.2" r="2.4"/><circle cx="142.0" cy="434.2" r="2.4"/><circle cx="143.0" cy="436.7" r="2.4"/><circle cx="144.0" cy="435.8" r="2.4"/><circle cx="145.0" cy="439.2" r="2.4"/><circle cx="146.0" cy="438.8" r="2.4"/><circle cx="147.0" cy="440.7" r="2.4"/><circle cx="148.0" cy="443.4" r="2.4"/><circle cx="149.0" cy="445.2" r="2.4"/><circle cx="150.0" cy="446.2" r="2.4"/><circle cx="151.0" cy="447.3" r="2.4"/><circle cx="152.0" cy="450.5" r="2.4"/><circle cx="153.0" cy="452.7" r="2.4"/><circle cx="153.9" cy="456.3" r="2.4"/><circle cx="154.9" cy="456.8" r="2.4"/><circle cx="155.9" cy="459.4" r="2.4"/><circle cx="156.9" cy="462.8" r="2.4"/><circle cx="157.9" cy="463.0" r="2.4"/><circle cx="158.9" cy="466.1" r="2.4"/><circle cx="159.9" cy="469.4" r="2.4"/><circle cx="160.9" cy="471.6" r="2.4"/><circle cx="161.9" cy="472.2" r="2.4"/><circle cx="162.9" cy="474.3" r="2.4"/><circle cx="163.8" cy="476.6" r="2.4"/><circle cx="164.8" cy="480.8" r="2.4"/><circle cx="165.8" cy="481.2" r="2.4"/><circle cx="166.8" cy="484.0" r="2.4"/><circle cx="167.8" cy="485.7" r="2.4"/><circle cx="168.8" cy="485.6" r="2.4"/><circle cx="169.8" cy="486.5" r="2.4"/><circle cx="170.8" cy="489.0" r="2.4"/><circle cx="171.8" cy="489.0" r="2.4"/><circle cx="172.8" cy="488.8" r="2.4"/><circle cx="173.8" cy="490.4" r="2.4"/><circle cx="174.8" cy="489.8" r="2.4"/><circle cx="175.8" cy="490.0" r="2.4"/><circle cx="176.8" cy="489.6" r="2.4"/><circle cx="177.8" cy="491.7" r="2.4"/><circle cx="178.8" cy="492.3" r="2.4"/><circle cx="179.8" cy="491.9" r="2.4"/><circle cx="180.8" cy="492.9" r="2.4"/><circle cx="181.8" cy="490.8" r="2.4"/><circle cx="182.8" cy="491.5" r="2.4"/><circle cx="183.8" cy="492.3" r="2.4"/><circle cx="184.8" cy="493.7" r="2.4"/><circle cx="185.8" cy="494.0" r="2.4"/><circle cx="186.8" cy="493.0" r="2.4"/><circle cx="187.8" cy="492.9" r="2.4"/><circle cx="188.8" cy="493.4" r="2.4"/><circle cx="189.8" cy="493.3" r="2.4"/><circle cx="190.8" cy="493.7" r="2.4"/><circle cx="191.8" cy="491.2" r="2.4"/><circle cx="192.8" cy="492.2" r="2.4"/><circle cx="193.8" cy="492.0" r="2.4"/><circle cx="194.8" cy="492.5" r="2.4"/><circle cx="195.8" cy="492.7" r="2.4"/><circle cx="196.8" cy="492.8" r="2.4"/><circle cx="197.8" cy="492.7" r="2.4"/></g>
<g fill="#000"><circle cx="198.7" cy="493.1" r="2.45"/><circle cx="201.5" cy="487.3" r="2.45"/><circle cx="204.3" cy="487.2" r="2.45"/><circle cx="207.1" cy="485.0" r="2.45"/><circle cx="209.9" cy="483.2" r="2.45"/><circle cx="212.7" cy="482.3" r="2.45"/><circle cx="215.4" cy="482.9" r="2.45"/><circle cx="218.2" cy="478.3" r="2.45"/><circle cx="221.0" cy="476.2" r="2.45"/><circle cx="223.8" cy="476.6" r="2.45"/><circle cx="226.6" cy="475.8" r="2.45"/><circle cx="229.4" cy="478.3" r="2.45"/><circle cx="232.2" cy="479.2" r="2.45"/><circle cx="235.0" cy="480.2" r="2.45"/><circle cx="237.8" cy="478.9" r="2.45"/><circle cx="240.6" cy="479.5" r="2.45"/><circle cx="243.4" cy="481.2" r="2.45"/><circle cx="246.2" cy="484.1" r="2.45"/><circle cx="249.0" cy="486.2" r="2.45"/><circle cx="251.8" cy="486.8" r="2.45"/><circle cx="254.6" cy="487.9" r="2.45"/><circle cx="257.4" cy="490.2" r="2.45"/><circle cx="260.2" cy="493.3" r="2.45"/><circle cx="263.0" cy="497.3" r="2.45"/><circle cx="265.8" cy="496.4" r="2.45"/><circle cx="268.6" cy="494.7" r="2.45"/><circle cx="271.4" cy="497.1" r="2.45"/><circle cx="274.2" cy="497.5" r="2.45"/><circle cx="276.9" cy="493.7" r="2.45"/><circle cx="279.7" cy="492.4" r="2.45"/><circle cx="282.5" cy="495.7" r="2.45"/><circle cx="285.3" cy="496.6" r="2.45"/><circle cx="288.1" cy="498.3" r="2.45"/><circle cx="290.9" cy="497.3" r="2.45"/><circle cx="293.7" cy="497.6" r="2.45"/><circle cx="296.5" cy="497.4" r="2.45"/><circle cx="299.3" cy="496.6" r="2.45"/><circle cx="302.1" cy="497.6" r="2.45"/><circle cx="304.9" cy="496.5" r="2.45"/><circle cx="307.7" cy="496.3" r="2.45"/><circle cx="310.5" cy="496.8" r="2.45"/><circle cx="313.3" cy="498.0" r="2.45"/><circle cx="316.1" cy="496.3" r="2.45"/><circle cx="318.9" cy="496.0" r="2.45"/><circle cx="321.7" cy="498.4" r="2.45"/><circle cx="324.5" cy="499.1" r="2.45"/></g>
<text x="99.2" y="105.7" font-size="14" font-weight="normal" text-anchor="start" >A</text>
<text x="124.5" y="117" font-size="14" font-weight="normal" text-anchor="start" >B</text>
<text x="142.5" y="131.5" font-size="14" font-weight="normal" text-anchor="start" >C</text>
<text x="232.2" y="176.6" font-size="14" font-weight="normal" text-anchor="start" >D</text>
<text x="261" y="193.5" font-size="15" font-weight="normal" text-anchor="start" >Graphite</text>
<text x="265" y="336.5" font-size="15.2" font-weight="normal" text-anchor="start" >Stage II</text>
<text x="273.1" y="384.1" font-size="15" font-weight="normal" text-anchor="start" >Li</text>
<text x="284.9" y="389.4" font-size="8.3" font-weight="normal" text-anchor="start" >1/2</text>
<text x="296.3" y="384.3" font-size="15" font-weight="normal" text-anchor="start" >C</text>
<text x="308" y="389.4" font-size="8.3" font-weight="normal" text-anchor="start" >6</text>
<text x="267.5" y="482" font-size="15.2" font-weight="normal" text-anchor="start" >Stage I</text>
<text x="281.5" y="526.5" font-size="15" font-weight="normal" text-anchor="start" >LiC</text>
<text x="304.3" y="532.3" font-size="8.3" font-weight="normal" text-anchor="start" >6</text>
<rect x="157.3" y="1.5" width="168.7" height="143.5" fill="#fff"/>
<path d="M158.22,145.0v-3.2M173.36,145.0v-3.2M188.50,145.0v-5.5M203.64,145.0v-3.2M218.78,145.0v-3.2M233.92,145.0v-3.2M249.06,145.0v-3.2M264.20,145.0v-5.5M279.34,145.0v-3.2M294.48,145.0v-3.2M309.62,145.0v-3.2M324.76,145.0v-3.2M157.3,23.55h3.5M157.3,46.50h6.0M157.3,69.45h3.5M157.3,92.40h6.0M157.3,115.35h3.5M157.3,138.30h6.0" stroke="#000" stroke-width="1.3" fill="none"/>
<path d="M157.3,1.5V145.0H326.0" stroke="#000" stroke-width="1.4" fill="none"/>
<path d="M165.21,1.5v3.2M173.67,1.5v3.2M182.13,1.5v3.2M190.59,1.5v3.2M199.06,1.5v5.5M207.52,1.5v3.2M215.98,1.5v3.2M224.45,1.5v3.2M232.91,1.5v3.2M241.37,1.5v5.5M249.83,1.5v3.2M258.30,1.5v3.2M266.76,1.5v3.2M275.22,1.5v3.2M283.69,1.5v5.5M292.15,1.5v3.2M300.61,1.5v3.2M309.07,1.5v3.2M317.54,1.5v3.2M326.00,1.5v5.5M326.0,131.07h-6.0M326.0,116.60h-3.5M326.0,102.13h-6.0M326.0,87.66h-3.5M326.0,73.19h-6.0M326.0,58.72h-3.5M326.0,44.25h-6.0M326.0,29.78h-3.5M326.0,15.31h-6.0" stroke="#000" stroke-width="1.3" fill="none"/>
<path d="M157.3,1.5H326.0V145.0" stroke="#000" stroke-width="1.4" fill="none"/>
<text x="187.3" y="159.2" font-size="14.5" font-weight="normal" text-anchor="middle" >285</text>
<text x="264.1" y="159.2" font-size="14.5" font-weight="normal" text-anchor="middle" >290</text>
<g fill="#000"><circle cx="157.4" cy="136.0" r="2.0"/><circle cx="159.8" cy="134.9" r="2.0"/><circle cx="162.2" cy="133.6" r="2.0"/><circle cx="164.5" cy="132.1" r="2.0"/><circle cx="166.9" cy="129.7" r="2.0"/><circle cx="169.1" cy="126.6" r="2.0"/><circle cx="171.3" cy="122.9" r="2.0"/><circle cx="173.6" cy="119.3" r="2.0"/><circle cx="175.8" cy="116.2" r="2.0"/><circle cx="178.1" cy="113.3" r="2.0"/><circle cx="180.4" cy="110.3" r="2.0"/><circle cx="182.6" cy="106.9" r="2.0"/><circle cx="184.9" cy="103.5" r="2.0"/><circle cx="187.1" cy="100.1" r="2.0"/><circle cx="189.5" cy="98.1" r="2.0"/><circle cx="191.9" cy="97.8" r="2.0"/><circle cx="194.3" cy="98.2" r="2.0"/><circle cx="196.6" cy="99.6" r="2.0"/><circle cx="198.9" cy="102.2" r="2.0"/><circle cx="201.2" cy="105.1" r="2.0"/><circle cx="203.5" cy="107.9" r="2.0"/><circle cx="205.8" cy="110.5" r="2.0"/><circle cx="208.2" cy="112.9" r="2.0"/><circle cx="210.5" cy="114.8" r="2.0"/><circle cx="212.9" cy="116.3" r="2.0"/><circle cx="215.3" cy="117.6" r="2.0"/><circle cx="217.7" cy="118.6" r="2.0"/><circle cx="220.0" cy="119.5" r="2.0"/><circle cx="222.4" cy="120.3" r="2.0"/><circle cx="224.8" cy="121.0" r="2.0"/><circle cx="227.2" cy="121.5" r="2.0"/><circle cx="229.6" cy="121.8" r="2.0"/><circle cx="232.0" cy="121.9" r="2.0"/><circle cx="234.4" cy="121.8" r="2.0"/><circle cx="236.8" cy="121.6" r="2.0"/><circle cx="239.2" cy="121.4" r="2.0"/><circle cx="241.6" cy="121.0" r="2.0"/><circle cx="244.0" cy="120.6" r="2.0"/><circle cx="246.4" cy="120.1" r="2.0"/><circle cx="248.8" cy="119.6" r="2.0"/><circle cx="251.2" cy="119.1" r="2.0"/><circle cx="253.6" cy="118.5" r="2.0"/><circle cx="256.0" cy="117.6" r="2.0"/><circle cx="258.4" cy="116.4" r="2.0"/><circle cx="260.7" cy="114.8" r="2.0"/><circle cx="263.1" cy="112.7" r="2.0"/><circle cx="265.4" cy="110.0" r="2.0"/><circle cx="267.6" cy="106.8" r="2.0"/><circle cx="269.7" cy="101.8" r="2.0"/><circle cx="271.5" cy="95.6" r="2.0"/><circle cx="273.2" cy="88.7" r="2.0"/><circle cx="274.7" cy="81.4" r="2.0"/><circle cx="276.2" cy="73.7" r="2.0"/><circle cx="277.7" cy="66.3" r="2.0"/><circle cx="279.1" cy="58.6" r="2.0"/><circle cx="280.6" cy="50.9" r="2.0"/><circle cx="282.3" cy="44.5" r="2.0"/><circle cx="284.2" cy="38.6" r="2.0"/><circle cx="286.2" cy="32.8" r="2.0"/><circle cx="288.1" cy="27.3" r="2.0"/><circle cx="290.2" cy="22.3" r="2.0"/><circle cx="292.3" cy="18.1" r="2.0"/></g>
<g fill="#000"><circle cx="293.8" cy="15.3" r="2.0"/><circle cx="297.9" cy="12.4" r="2.0"/><circle cx="302.1" cy="13.1" r="2.0"/><circle cx="306.2" cy="16.6" r="2.0"/><circle cx="310.3" cy="20.8" r="2.0"/><circle cx="314.4" cy="24.9" r="2.0"/><circle cx="318.4" cy="29.2" r="2.0"/><circle cx="322.4" cy="34.1" r="2.0"/></g>
<g fill="none" stroke="#f01418" stroke-width="1.3"><circle cx="157.4" cy="133.6" r="1.5"/><circle cx="160.6" cy="132.1" r="1.5"/><circle cx="163.7" cy="130.3" r="1.5"/><circle cx="166.9" cy="128.0" r="1.5"/><circle cx="169.9" cy="124.2" r="1.5"/><circle cx="172.7" cy="117.9" r="1.5"/><circle cx="175.3" cy="110.4" r="1.5"/><circle cx="178.2" cy="104.7" r="1.5"/><circle cx="180.9" cy="98.2" r="1.5"/><circle cx="183.5" cy="91.0" r="1.5"/><circle cx="186.6" cy="86.8" r="1.5"/><circle cx="189.7" cy="84.0" r="1.5"/><circle cx="192.9" cy="83.4" r="1.5"/><circle cx="196.0" cy="85.4" r="1.5"/><circle cx="199.0" cy="89.7" r="1.5"/><circle cx="202.0" cy="94.6" r="1.5"/><circle cx="204.9" cy="99.7" r="1.5"/><circle cx="207.8" cy="104.7" r="1.5"/><circle cx="211.0" cy="106.5" r="1.5"/><circle cx="214.2" cy="107.8" r="1.5"/><circle cx="217.4" cy="108.8" r="1.5"/><circle cx="220.6" cy="109.8" r="1.5"/><circle cx="223.8" cy="109.9" r="1.5"/><circle cx="227.0" cy="109.5" r="1.5"/><circle cx="230.2" cy="109.0" r="1.5"/><circle cx="233.4" cy="107.8" r="1.5"/><circle cx="236.5" cy="106.4" r="1.5"/><circle cx="239.7" cy="106.0" r="1.5"/><circle cx="242.9" cy="106.5" r="1.5"/><circle cx="246.1" cy="106.7" r="1.5"/><circle cx="249.3" cy="105.6" r="1.5"/><circle cx="252.5" cy="104.1" r="1.5"/><circle cx="255.7" cy="102.2" r="1.5"/><circle cx="258.8" cy="99.2" r="1.5"/><circle cx="261.8" cy="94.9" r="1.5"/><circle cx="264.6" cy="89.0" r="1.5"/><circle cx="267.5" cy="83.2" r="1.5"/><circle cx="270.3" cy="77.6" r="1.5"/><circle cx="272.7" cy="69.1" r="1.5"/><circle cx="275.2" cy="61.3" r="1.5"/><circle cx="277.8" cy="53.6" r="1.5"/><circle cx="280.2" cy="45.2" r="1.5"/><circle cx="282.8" cy="37.8" r="1.5"/><circle cx="285.5" cy="31.1" r="1.5"/><circle cx="288.4" cy="25.1" r="1.5"/><circle cx="291.4" cy="20.8" r="1.5"/><circle cx="294.5" cy="18.0" r="1.5"/><circle cx="297.7" cy="17.6" r="1.5"/><circle cx="300.9" cy="19.3" r="1.5"/><circle cx="304.0" cy="21.4" r="1.5"/><circle cx="307.1" cy="24.2" r="1.5"/><circle cx="310.2" cy="27.3" r="1.5"/><circle cx="313.3" cy="30.5" r="1.5"/><circle cx="316.5" cy="33.3" r="1.5"/><circle cx="319.6" cy="35.7" r="1.5"/><circle cx="322.7" cy="38.1" r="1.5"/></g>
<path d="M155.5,134.9l3.8,3.8m0,-3.8l-3.8,3.8M158.3,133.9l3.8,3.8m0,-3.8l-3.8,3.8M161.1,132.5l3.8,3.8m0,-3.8l-3.8,3.8M163.8,130.1l3.8,3.8m0,-3.8l-3.8,3.8M166.5,126.8l3.8,3.8m0,-3.8l-3.8,3.8M169.1,122.9l3.8,3.8m0,-3.8l-3.8,3.8M171.7,118.9l3.8,3.8m0,-3.8l-3.8,3.8M174.3,114.9l3.8,3.8m0,-3.8l-3.8,3.8M177.0,111.4l3.8,3.8m0,-3.8l-3.8,3.8M179.7,108.3l3.8,3.8m0,-3.8l-3.8,3.8M182.4,105.6l3.8,3.8m0,-3.8l-3.8,3.8M185.2,103.7l3.8,3.8m0,-3.8l-3.8,3.8M187.9,102.5l3.8,3.8m0,-3.8l-3.8,3.8M190.7,102.2l3.8,3.8m0,-3.8l-3.8,3.8M193.5,103.4l3.8,3.8m0,-3.8l-3.8,3.8M196.3,105.3l3.8,3.8m0,-3.8l-3.8,3.8M199.0,107.7l3.8,3.8m0,-3.8l-3.8,3.8M201.7,110.1l3.8,3.8m0,-3.8l-3.8,3.8M204.5,112.6l3.8,3.8m0,-3.8l-3.8,3.8M207.2,114.2l3.8,3.8m0,-3.8l-3.8,3.8M210.0,115.3l3.8,3.8m0,-3.8l-3.8,3.8M212.8,116.0l3.8,3.8m0,-3.8l-3.8,3.8M215.6,116.5l3.8,3.8m0,-3.8l-3.8,3.8M218.4,116.6l3.8,3.8m0,-3.8l-3.8,3.8M221.2,116.1l3.8,3.8m0,-3.8l-3.8,3.8M224.0,115.2l3.8,3.8m0,-3.8l-3.8,3.8M226.8,114.5l3.8,3.8m0,-3.8l-3.8,3.8M229.6,113.8l3.8,3.8m0,-3.8l-3.8,3.8M232.4,113.0l3.8,3.8m0,-3.8l-3.8,3.8M235.2,111.9l3.8,3.8m0,-3.8l-3.8,3.8M238.0,110.8l3.8,3.8m0,-3.8l-3.8,3.8M240.8,110.1l3.8,3.8m0,-3.8l-3.8,3.8M243.5,108.9l3.8,3.8m0,-3.8l-3.8,3.8M246.3,107.3l3.8,3.8m0,-3.8l-3.8,3.8M249.1,105.3l3.8,3.8m0,-3.8l-3.8,3.8M251.8,102.6l3.8,3.8m0,-3.8l-3.8,3.8M254.5,99.3l3.8,3.8m0,-3.8l-3.8,3.8M257.1,95.3l3.8,3.8m0,-3.8l-3.8,3.8M259.5,90.0l3.8,3.8m0,-3.8l-3.8,3.8M261.7,83.1l3.8,3.8m0,-3.8l-3.8,3.8M263.8,75.5l3.8,3.8m0,-3.8l-3.8,3.8M265.9,68.3l3.8,3.8m0,-3.8l-3.8,3.8M268.3,62.2l3.8,3.8m0,-3.8l-3.8,3.8M270.6,55.8l3.8,3.8m0,-3.8l-3.8,3.8M272.5,47.5l3.8,3.8m0,-3.8l-3.8,3.8M274.7,41.0l3.8,3.8m0,-3.8l-3.8,3.8M277.2,36.0l3.8,3.8m0,-3.8l-3.8,3.8M279.6,30.3l3.8,3.8m0,-3.8l-3.8,3.8M282.0,24.4l3.8,3.8m0,-3.8l-3.8,3.8M284.5,19.6l3.8,3.8m0,-3.8l-3.8,3.8M287.2,17.0l3.8,3.8m0,-3.8l-3.8,3.8M290.0,15.4l3.8,3.8m0,-3.8l-3.8,3.8M292.8,14.5l3.8,3.8m0,-3.8l-3.8,3.8M295.6,14.6l3.8,3.8m0,-3.8l-3.8,3.8M298.4,16.1l3.8,3.8m0,-3.8l-3.8,3.8M301.1,18.3l3.8,3.8m0,-3.8l-3.8,3.8M303.8,20.8l3.8,3.8m0,-3.8l-3.8,3.8M306.6,23.6l3.8,3.8m0,-3.8l-3.8,3.8M309.3,26.4l3.8,3.8m0,-3.8l-3.8,3.8M312.0,29.1l3.8,3.8m0,-3.8l-3.8,3.8M314.7,31.4l3.8,3.8m0,-3.8l-3.8,3.8M317.5,33.6l3.8,3.8m0,-3.8l-3.8,3.8M320.2,36.1l3.8,3.8m0,-3.8l-3.8,3.8M322.9,38.7l3.8,3.8m0,-3.8l-3.8,3.8" stroke="#0a0af0" stroke-width="1.3" fill="none"/>
<circle cx="183.7" cy="15.2" r="3.9" fill="#000"/>
<circle cx="183.7" cy="31.9" r="2.8" fill="none" stroke="#f01418" stroke-width="2.2"/>
<path d="M179.5,44l8.4,8.4m0,-8.4l-8.4,8.4" stroke="#0a0af0" stroke-width="2.4" fill="none"/>
<text x="201.8" y="19.7" font-size="13.6" font-weight="normal" text-anchor="start" >Graphite</text>
<text x="201.8" y="36.1" font-size="13.6" font-weight="normal" text-anchor="start" >Stage II</text>
<text x="201.8" y="52.3" font-size="13.6" font-weight="normal" text-anchor="start" >Stage I</text>
<path d="M394.20,1.5v5.5M402.60,1.5v3.2M411.00,1.5v3.2M419.40,1.5v3.2M427.80,1.5v3.2M436.20,1.5v5.5M444.60,1.5v3.2M453.00,1.5v3.2M461.40,1.5v3.2M469.80,1.5v3.2M478.20,1.5v5.5M486.60,1.5v3.2M495.00,1.5v3.2M503.40,1.5v3.2M511.80,1.5v3.2M520.20,1.5v5.5M528.60,1.5v3.2M537.00,1.5v3.2M545.40,1.5v3.2M553.80,1.5v3.2M562.20,1.5v5.5M570.60,1.5v3.2M579.00,1.5v3.2M587.40,1.5v3.2M595.80,1.5v3.2M604.20,1.5v5.5M612.60,1.5v3.2M621.00,1.5v3.2M629.40,1.5v3.2M637.80,1.5v3.2M646.20,1.5v5.5M654.60,1.5v3.2M663.00,1.5v3.2M671.40,1.5v3.2M679.80,1.5v3.2M688.20,1.5v5.5M394.20,178.9v11.0M402.60,181.20000000000002v6.4M411.00,181.20000000000002v6.4M419.40,181.20000000000002v6.4M427.80,181.20000000000002v6.4M436.20,178.9v11.0M444.60,181.20000000000002v6.4M453.00,181.20000000000002v6.4M461.40,181.20000000000002v6.4M469.80,181.20000000000002v6.4M478.20,178.9v11.0M486.60,181.20000000000002v6.4M495.00,181.20000000000002v6.4M503.40,181.20000000000002v6.4M511.80,181.20000000000002v6.4M520.20,178.9v11.0M528.60,181.20000000000002v6.4M537.00,181.20000000000002v6.4M545.40,181.20000000000002v6.4M553.80,181.20000000000002v6.4M562.20,178.9v11.0M570.60,181.20000000000002v6.4M579.00,181.20000000000002v6.4M587.40,181.20000000000002v6.4M595.80,181.20000000000002v6.4M604.20,178.9v11.0M612.60,181.20000000000002v6.4M621.00,181.20000000000002v6.4M629.40,181.20000000000002v6.4M637.80,181.20000000000002v6.4M646.20,178.9v11.0M654.60,181.20000000000002v6.4M663.00,181.20000000000002v6.4M671.40,181.20000000000002v6.4M679.80,181.20000000000002v6.4M688.20,178.9v11.0M394.20,361.8v11.0M402.60,364.1v6.4M411.00,364.1v6.4M419.40,364.1v6.4M427.80,364.1v6.4M436.20,361.8v11.0M444.60,364.1v6.4M453.00,364.1v6.4M461.40,364.1v6.4M469.80,364.1v6.4M478.20,361.8v11.0M486.60,364.1v6.4M495.00,364.1v6.4M503.40,364.1v6.4M511.80,364.1v6.4M520.20,361.8v11.0M528.60,364.1v6.4M537.00,364.1v6.4M545.40,364.1v6.4M553.80,364.1v6.4M562.20,361.8v11.0M570.60,364.1v6.4M579.00,364.1v6.4M587.40,364.1v6.4M595.80,364.1v6.4M604.20,361.8v11.0M612.60,364.1v6.4M621.00,364.1v6.4M629.40,364.1v6.4M637.80,364.1v6.4M646.20,361.8v11.0M654.60,364.1v6.4M663.00,364.1v6.4M671.40,364.1v6.4M679.80,364.1v6.4M688.20,361.8v11.0M394.20,550.2v-5.5M402.60,550.2v-3.2M411.00,550.2v-3.2M419.40,550.2v-3.2M427.80,550.2v-3.2M436.20,550.2v-5.5M444.60,550.2v-3.2M453.00,550.2v-3.2M461.40,550.2v-3.2M469.80,550.2v-3.2M478.20,550.2v-5.5M486.60,550.2v-3.2M495.00,550.2v-3.2M503.40,550.2v-3.2M511.80,550.2v-3.2M520.20,550.2v-5.5M528.60,550.2v-3.2M537.00,550.2v-3.2M545.40,550.2v-3.2M553.80,550.2v-3.2M562.20,550.2v-5.5M570.60,550.2v-3.2M579.00,550.2v-3.2M587.40,550.2v-3.2M595.80,550.2v-3.2M604.20,550.2v-5.5M612.60,550.2v-3.2M621.00,550.2v-3.2M629.40,550.2v-3.2M637.80,550.2v-3.2M646.20,550.2v-5.5M654.60,550.2v-3.2M663.00,550.2v-3.2M671.40,550.2v-3.2M679.80,550.2v-3.2M688.20,550.2v-5.5M394.2,23.02h3.5M688.2,23.02h-3.5M394.2,44.54h6.0M688.2,44.54h-6.0M394.2,66.06h3.5M688.2,66.06h-3.5M394.2,87.58h6.0M688.2,87.58h-6.0M394.2,109.10h3.5M688.2,109.10h-3.5M394.2,130.62h6.0M688.2,130.62h-6.0M394.2,152.14h3.5M688.2,152.14h-3.5M394.2,173.66h6.0M688.2,173.66h-6.0M394.2,205.92h3.5M688.2,205.92h-3.5M394.2,227.44h6.0M688.2,227.44h-6.0M394.2,248.96h3.5M688.2,248.96h-3.5M394.2,270.48h6.0M688.2,270.48h-6.0M394.2,292.00h3.5M688.2,292.00h-3.5M394.2,313.52h6.0M688.2,313.52h-6.0M394.2,335.04h3.5M688.2,335.04h-3.5M394.2,356.56h6.0M688.2,356.56h-6.0M394.2,388.82h3.5M688.2,388.82h-3.5M394.2,410.34h6.0M688.2,410.34h-6.0M394.2,431.86h3.5M688.2,431.86h-3.5M394.2,453.38h6.0M688.2,453.38h-6.0M394.2,474.90h3.5M688.2,474.90h-3.5M394.2,496.42h6.0M688.2,496.42h-6.0M394.2,517.94h3.5M688.2,517.94h-3.5M394.2,539.46h6.0M688.2,539.46h-6.0" stroke="#000" stroke-width="1.3" fill="none"/>
<rect x="394.2" y="1.5" width="294.00000000000006" height="548.7" fill="none" stroke="#000" stroke-width="1.4"/>
<path d="M394.2,184.4H688.2M394.2,367.3H688.2" stroke="#000" stroke-width="1.4"/>
<text x="394.2" y="568.6" font-size="15.4" font-weight="normal" text-anchor="middle" >280</text>
<text x="436.2" y="568.6" font-size="15.4" font-weight="normal" text-anchor="middle" >290</text>
<text x="478.2" y="568.6" font-size="15.4" font-weight="normal" text-anchor="middle" >300</text>
<text x="520.2" y="568.6" font-size="15.4" font-weight="normal" text-anchor="middle" >310</text>
<text x="562.2" y="568.6" font-size="15.4" font-weight="normal" text-anchor="middle" >320</text>
<text x="604.2" y="568.6" font-size="15.4" font-weight="normal" text-anchor="middle" >330</text>
<text x="646.2" y="568.6" font-size="15.4" font-weight="normal" text-anchor="middle" >340</text>
<text x="688.2" y="568.6" font-size="15.4" font-weight="normal" text-anchor="middle" >350</text>
<text x="455.4" y="592.0" font-size="18.65" font-weight="normal" text-anchor="start" style="stroke-width:0.7px">Energy transfer (eV)</text>
<text transform="translate(377.6,366.3) rotate(-90)" x="0" y="0" font-size="18.7">Intensity (arb. units)</text>
<text x="400.2" y="28.8" font-size="22" font-weight="normal" text-anchor="start" >(b)</text>
<text x="609.2" y="36.2" font-size="15" font-weight="normal" text-anchor="start" >Graphite</text>
<text x="628.3" y="224.3" font-size="15" font-weight="normal" text-anchor="start" >Li</text>
<text x="640.5" y="229.8" font-size="8.3" font-weight="normal" text-anchor="start" >1/2</text>
<text x="652" y="224.3" font-size="15" font-weight="normal" text-anchor="start" >C</text>
<text x="663.2" y="229.8" font-size="8.3" font-weight="normal" text-anchor="start" >6</text>
<text x="645" y="404.4" font-size="15" font-weight="normal" text-anchor="start" >LiC</text>
<text x="668" y="410.3" font-size="8.3" font-weight="normal" text-anchor="start" >6</text>
<polyline points="394.5,173.7 394.8,173.8 395.6,174.0 396.8,174.2 398.2,174.4 399.7,174.5 401.2,174.5 402.6,174.2 403.6,173.7 404.7,172.3 405.6,170.3 406.2,167.7 406.7,164.9 407.1,161.8 407.5,158.7 407.9,155.7 408.3,153.0 408.7,150.6 409.1,148.1 409.5,145.7 409.9,143.2 410.2,140.8 410.6,138.5 411.0,136.1 411.5,133.9 412.0,131.8 412.5,129.5 413.0,127.1 413.6,124.7 414.1,122.7 414.7,121.0 415.2,119.9 415.7,119.5 416.2,120.1 416.7,121.5 417.1,123.7 417.5,126.3 418.0,129.2 418.4,132.1 418.9,134.8 419.5,137.1 420.0,138.9 420.5,140.6 421.0,142.4 421.5,144.1 422.1,145.7 422.7,147.2 423.4,148.6 424.3,149.8 425.1,150.7 426.0,151.5 427.0,152.3 428.0,153.0 429.1,153.6 430.1,154.1 431.2,154.4 432.3,154.6 433.4,154.5 434.6,154.2 435.8,153.6 437.0,153.0 438.3,152.4 439.5,151.8 440.7,151.5 441.8,151.4 442.9,151.7 443.9,152.2 444.9,153.0 445.9,153.8 446.9,154.6 447.9,155.3 448.8,155.9 449.8,156.2 450.6,156.2 451.4,156.0 452.2,155.7 453.0,155.3 453.8,155.0 454.6,154.7 455.4,154.5 456.2,154.6 457.2,155.0 458.2,155.6 459.1,156.4 460.1,157.3 461.1,158.3 462.1,159.3 463.1,160.2 464.1,161.0 465.1,161.7 466.0,162.4 467.0,163.1 467.9,163.8 468.9,164.4 469.9,165.0 471.0,165.4 472.1,165.8 473.4,166.1 474.8,166.4 476.3,166.5 477.8,166.6 479.3,166.6 480.7,166.5 482.1,166.2 483.3,165.8 484.3,165.3 485.2,164.7 486.0,163.9 486.8,163.1 487.5,162.2 488.2,161.3 488.9,160.4 489.6,159.4 490.3,158.2 491.0,156.7 491.6,155.2 492.1,153.6 492.7,152.1 493.3,150.9 493.8,150.1 494.4,149.8 495.0,150.1 495.5,151.0 496.0,152.4 496.5,153.9 497.0,155.6 497.6,157.1 498.3,158.5 499.2,159.4 500.2,160.0 501.3,160.3 502.4,160.5 503.7,160.7 505.0,160.7 506.3,160.8 507.6,160.8 508.8,161.0 510.0,161.2 511.2,161.5 512.4,161.9 513.6,162.2 514.8,162.4 516.0,162.6 517.1,162.7 518.3,162.6 519.5,162.3 520.7,161.9 522.0,161.4 523.2,160.8 524.4,160.1 525.6,159.4 526.7,158.6 527.9,157.8 529.2,156.8 530.5,155.5 531.8,154.1 533.0,152.7 534.3,151.4 535.6,150.2 536.8,149.2 538.0,148.6 538.8,148.4 539.7,148.4 540.5,148.4 541.3,148.6 542.1,148.8 542.9,149.0 543.7,149.1 544.5,149.1 545.2,149.0 545.9,148.9 546.6,148.7 547.3,148.5 548.0,148.3 548.6,148.1 549.3,148.1 549.9,148.2 550.5,148.4 551.1,148.7 551.7,149.1 552.2,149.6 552.7,150.1 553.3,150.7 553.8,151.3 554.3,151.9 555.0,152.9 555.6,154.1 556.3,155.5 556.9,156.9 557.5,158.3 558.2,159.6 558.9,160.7 559.7,161.7 560.4,162.4 561.2,163.0 562.0,163.6 562.9,164.1 563.7,164.5 564.6,164.8 565.4,164.9 566.2,164.9 567.0,164.7 567.9,164.2 568.7,163.5 569.6,162.7 570.4,161.9 571.2,161.0 572.0,160.2 572.7,159.5 573.3,158.9 573.9,158.3 574.4,157.6 575.0,157.0 575.5,156.4 576.0,156.0 576.6,155.7 577.1,155.6 577.6,155.8 578.2,156.2 578.7,156.8 579.2,157.6 579.7,158.4 580.3,159.2 580.8,159.9 581.4,160.6 582.0,161.2 582.6,161.9 583.3,162.5 583.9,163.2 584.6,163.7 585.3,164.2 586.1,164.6 586.9,164.9 588.0,165.0 589.1,164.8 590.3,164.5 591.6,164.1 592.8,163.6 594.1,163.2 595.4,162.9 596.6,162.7 597.7,162.7 598.8,162.9 599.9,163.1 601.0,163.4 602.1,163.6 603.2,163.8 604.3,163.9 605.3,163.8 606.3,163.5 607.3,163.0 608.3,162.4 609.3,161.7 610.2,161.0 611.1,160.4 612.0,159.9 612.9,159.5 613.5,159.3 614.1,159.1 614.7,158.9 615.3,158.8 615.8,158.7 616.3,158.7 616.8,158.8 617.3,159.0 617.9,159.5 618.4,160.2 619.0,161.2 619.5,162.2 619.9,163.2 620.2,164.1 620.4,164.7 620.5,164.9" fill="none" stroke="#000" stroke-width="1.8" stroke-dasharray="3.2,2" stroke-linejoin="round"/>
<polyline points="394.5,355.7 394.8,355.8 395.8,356.0 397.1,356.2 398.8,356.4 400.5,356.6 402.2,356.5 403.7,356.3 404.9,355.7 406.0,354.4 406.8,352.6 407.5,350.3 407.9,347.7 408.3,345.0 408.7,342.3 409.0,339.6 409.5,337.1 410.0,334.7 410.5,332.3 410.9,329.8 411.3,327.4 411.8,325.0 412.2,322.6 412.7,320.5 413.2,318.5 413.6,317.1 413.9,315.7 414.3,314.2 414.7,312.8 415.1,311.6 415.5,310.7 415.9,310.0 416.3,309.8 416.8,310.3 417.3,311.6 417.7,313.5 418.2,315.7 418.7,318.2 419.2,320.7 419.8,322.9 420.4,324.7 420.9,325.9 421.4,327.1 421.9,328.3 422.5,329.4 423.1,330.4 423.7,331.3 424.3,332.0 425.0,332.4 425.5,332.5 426.1,332.5 426.7,332.3 427.3,332.1 427.9,331.8 428.5,331.6 429.1,331.5 429.7,331.5 430.4,331.8 431.2,332.3 431.9,332.9 432.7,333.6 433.5,334.2 434.3,334.8 435.1,335.3 435.9,335.5 436.8,335.4 437.8,335.1 438.7,334.6 439.7,334.0 440.7,333.4 441.7,332.9 442.7,332.5 443.7,332.4 444.7,332.6 445.6,333.0 446.6,333.5 447.5,334.2 448.5,334.9 449.4,335.5 450.4,336.1 451.4,336.5 452.4,336.8 453.3,336.9 454.3,337.0 455.3,337.0 456.3,337.1 457.3,337.2 458.3,337.4 459.2,337.7 460.2,338.2 461.2,338.8 462.2,339.5 463.2,340.3 464.1,341.0 465.1,341.8 466.0,342.6 466.9,343.3 467.7,344.0 468.5,344.7 469.2,345.4 470.0,346.2 470.7,346.8 471.5,347.4 472.3,347.8 473.1,347.9 474.0,347.7 475.0,347.1 476.0,346.2 477.0,345.3 478.0,344.3 479.0,343.5 480.0,342.9 480.9,342.7 481.7,342.9 482.5,343.4 483.3,344.0 484.0,344.8 484.8,345.7 485.5,346.5 486.3,347.3 487.1,347.9 487.8,348.4 488.6,348.9 489.4,349.4 490.1,349.9 490.9,350.3 491.7,350.7 492.5,350.9 493.3,351.0 494.2,351.0 495.2,350.8 496.2,350.5 497.3,350.1 498.3,349.6 499.3,349.1 500.2,348.5 501.1,347.9 502.0,347.2 502.8,346.4 503.6,345.5 504.4,344.5 505.2,343.5 505.9,342.5 506.6,341.3 507.3,340.2 508.2,338.6 509.0,336.7 509.7,334.6 510.5,332.5 511.2,330.5 511.9,328.7 512.7,327.2 513.5,326.2 513.9,325.9 514.3,325.7 514.6,325.5 515.0,325.3 515.4,325.2 515.8,325.2 516.2,325.2 516.6,325.3 517.3,325.6 518.1,326.0 518.8,326.6 519.6,327.3 520.4,328.1 521.2,329.0 522.0,330.0 522.8,330.9 523.8,332.4 524.8,334.4 525.7,336.6 526.6,338.8 527.6,340.9 528.5,342.7 529.5,344.1 530.6,344.8 531.3,344.9 532.0,344.6 532.8,344.2 533.5,343.7 534.3,343.1 535.1,342.5 535.9,342.0 536.8,341.7 537.9,341.5 539.1,341.5 540.4,341.6 541.6,341.7 542.9,341.8 544.2,341.8 545.5,341.8 546.7,341.7 547.8,341.4 548.9,341.0 550.0,340.5 551.1,339.9 552.2,339.4 553.2,338.9 554.3,338.6 555.4,338.4 556.5,338.4 557.6,338.6 558.6,338.9 559.7,339.3 560.8,339.7 561.9,340.0 563.0,340.4 564.1,340.6 565.2,340.7 566.2,340.8 567.3,340.9 568.4,340.9 569.5,341.0 570.5,341.0 571.6,341.1 572.7,341.2 573.8,341.3 574.9,341.5 575.9,341.7 577.0,341.8 578.1,342.0 579.2,342.2 580.3,342.5 581.4,342.7 582.7,343.0 584.1,343.4 585.5,343.9 586.8,344.3 588.2,344.7 589.6,345.1 591.0,345.4 592.3,345.6 593.4,345.7 594.6,345.6 595.7,345.5 596.8,345.4 597.9,345.2 598.9,345.1 600.0,345.0 601.0,344.9 601.9,344.9 602.7,345.0 603.6,345.0 604.4,345.1 605.2,345.2 606.0,345.2 606.8,345.1 607.5,344.9 608.2,344.5 608.9,344.0 609.5,343.4 610.2,342.7 610.8,342.0 611.5,341.4 612.1,340.9 612.9,340.6 613.9,340.5 615.0,340.5 616.3,340.7 617.5,340.9 618.7,341.2 619.6,341.4 620.3,341.6 620.5,341.7" fill="none" stroke="#000" stroke-width="1.8" stroke-dasharray="3.2,2" stroke-linejoin="round"/>
<polyline points="394.5,539.3 394.9,539.4 396.0,539.6 397.5,539.8 399.4,540.0 401.4,540.2 403.3,540.1 405.0,539.9 406.3,539.3 407.3,538.3 408.1,536.8 408.6,535.1 409.1,533.2 409.5,531.2 409.9,529.1 410.4,527.2 411.0,525.4 411.7,523.7 412.3,521.9 413.0,520.0 413.7,518.2 414.4,516.5 415.2,515.0 416.1,513.9 417.1,513.1 417.9,512.9 418.8,512.9 419.7,513.1 420.7,513.4 421.7,513.8 422.8,514.1 423.8,514.4 424.9,514.6 426.3,514.6 427.8,514.5 429.4,514.3 431.0,514.1 432.6,513.9 434.2,513.7 435.7,513.6 437.2,513.7 438.4,513.8 439.6,514.0 440.8,514.2 441.9,514.5 443.0,514.8 444.2,515.2 445.3,515.6 446.5,516.1 448.0,516.8 449.6,517.6 451.2,518.5 452.8,519.5 454.3,520.6 455.9,521.7 457.4,522.8 458.8,523.9 460.1,525.1 461.3,526.5 462.5,528.1 463.7,529.6 464.8,531.0 465.9,532.1 467.0,532.9 468.1,533.1 469.1,532.8 470.1,531.9 471.1,530.8 472.1,529.3 473.1,527.8 474.0,526.3 474.9,525.0 475.8,523.9 476.4,523.2 477.0,522.5 477.6,521.9 478.1,521.2 478.7,520.7 479.2,520.2 479.8,520.0 480.4,519.9 481.1,520.2 481.9,520.8 482.6,521.7 483.4,522.8 484.1,524.0 484.9,525.1 485.7,526.2 486.6,527.0 487.5,527.7 488.4,528.4 489.4,529.0 490.4,529.6 491.4,530.2 492.4,530.6 493.4,530.9 494.3,531.0 495.1,531.0 495.9,530.9 496.7,530.7 497.5,530.4 498.3,530.0 499.0,529.6 499.8,529.1 500.5,528.5 501.5,527.4 502.5,526.0 503.5,524.4 504.4,522.7 505.4,520.9 506.3,519.1 507.2,517.5 508.2,516.1 509.0,515.0 509.7,513.9 510.5,512.8 511.3,511.8 512.0,510.9 512.8,510.1 513.6,509.6 514.4,509.4 515.2,509.5 515.9,509.8 516.7,510.4 517.5,511.1 518.3,511.9 519.0,512.8 519.8,513.7 520.5,514.6 521.3,515.8 522.1,517.1 522.8,518.6 523.6,520.1 524.3,521.6 525.0,523.1 525.8,524.3 526.7,525.4 527.4,526.1 528.2,526.7 528.9,527.3 529.7,527.9 530.5,528.3 531.3,528.7 532.1,529.0 532.9,529.1 533.5,529.1 534.2,529.0 534.8,528.7 535.4,528.5 536.0,528.1 536.7,527.8 537.3,527.5 538.0,527.3 538.8,527.1 539.6,527.0 540.4,526.8 541.2,526.7 542.0,526.6 542.9,526.4 543.7,526.1 544.5,525.8 545.5,525.2 546.4,524.5 547.3,523.6 548.2,522.7 549.2,521.8 550.1,520.9 551.1,520.0 552.1,519.3 553.1,518.6 554.2,517.8 555.3,517.1 556.4,516.4 557.5,515.8 558.6,515.3 559.7,515.0 560.8,514.9 561.8,515.1 562.7,515.5 563.7,516.0 564.6,516.7 565.5,517.5 566.4,518.2 567.4,518.8 568.4,519.3 569.4,519.7 570.5,519.9 571.6,520.2 572.7,520.4 573.8,520.6 574.9,520.8 576.0,521.1 577.1,521.4 578.2,521.9 579.3,522.5 580.3,523.1 581.4,523.8 582.5,524.5 583.6,525.0 584.7,525.5 585.8,525.8 587.0,525.9 588.2,525.8 589.4,525.6 590.6,525.3 591.8,525.0 593.1,524.8 594.3,524.7 595.5,524.7 596.7,524.9 598.0,525.3 599.2,525.8 600.5,526.3 601.7,526.8 602.9,527.3 604.1,527.7 605.3,528.0 606.3,528.1 607.3,528.2 608.2,528.2 609.1,528.2 610.1,528.1 611.0,528.1 612.0,528.0 612.9,528.0 614.0,528.0 615.2,528.0 616.4,528.0 617.6,528.0 618.8,528.0 619.7,528.0 620.3,528.0 620.5,528.0" fill="none" stroke="#000" stroke-width="1.8" stroke-dasharray="3.2,2" stroke-linejoin="round"/>
<polyline points="394.5,173.7 395.6,173.8 398.6,173.9 402.9,174.2 408.0,174.4 413.4,174.5 418.6,174.4 422.9,174.2 425.9,173.7 426.8,173.4 427.5,173.1 428.2,172.9 428.7,172.5 429.3,172.1 429.7,171.7 430.2,171.1 430.7,170.5 431.5,169.1 432.1,167.3 432.7,165.3 433.2,163.0 433.6,160.6 434.0,158.1 434.4,155.6 434.8,153.0 435.3,149.5 435.8,145.8 436.3,142.0 436.7,138.0 437.1,133.9 437.5,129.7 437.8,125.4 438.2,121.1 438.6,115.8 439.1,110.3 439.5,104.6 439.9,98.8 440.3,93.0 440.7,87.3 441.0,81.8 441.4,76.5 441.7,72.2 442.0,67.8 442.3,63.5 442.5,59.3 442.8,55.3 443.0,51.4 443.3,47.9 443.5,44.6 443.6,42.6 443.7,40.4 443.8,38.3 443.9,36.3 444.0,34.6 444.1,33.2 444.2,32.2 444.4,31.9 444.6,32.1 444.9,32.8 445.1,33.8 445.4,35.0 445.7,36.5 446.0,38.1 446.3,39.8 446.6,41.4 447.1,45.0 447.5,49.3 447.9,54.2 448.2,59.4 448.6,64.8 449.0,70.1 449.4,75.1 449.8,79.7 450.1,83.3 450.5,86.9 450.8,90.4 451.1,93.9 451.5,97.1 451.9,100.2 452.4,102.9 453.0,105.2 453.4,106.3 453.7,107.5 454.1,108.5 454.5,109.5 455.0,110.4 455.4,111.1 455.8,111.5 456.2,111.6 456.8,110.9 457.4,109.2 458.0,106.8 458.6,103.9 459.2,100.7 459.8,97.5 460.4,94.7 461.0,92.4 461.5,91.0 461.9,89.5 462.4,88.0 462.9,86.6 463.4,85.3 463.9,84.4 464.3,83.7 464.8,83.5 465.3,83.9 465.8,84.8 466.4,86.2 466.9,87.9 467.4,89.9 467.9,91.9 468.4,93.8 468.9,95.6 469.5,97.7 470.1,100.2 470.7,102.8 471.3,105.5 471.9,107.8 472.5,109.8 473.1,111.1 473.7,111.6 474.2,111.2 474.7,110.1 475.1,108.5 475.6,106.5 476.1,104.4 476.5,102.3 477.0,100.4 477.5,98.8 477.9,97.7 478.3,96.6 478.7,95.4 479.1,94.3 479.5,93.3 479.9,92.5 480.3,92.0 480.7,91.8 481.2,92.1 481.7,93.1 482.2,94.4 482.7,96.0 483.2,97.7 483.8,99.4 484.3,100.9 484.9,102.0 485.3,102.6 485.6,103.1 486.0,103.6 486.4,104.1 486.8,104.5 487.2,104.9 487.6,105.1 488.0,105.2 488.5,105.1 489.0,104.7 489.6,104.1 490.1,103.5 490.7,102.9 491.2,102.4 491.7,102.0 492.2,102.0 492.8,102.4 493.3,103.2 493.8,104.3 494.2,105.7 494.7,107.2 495.1,108.7 495.5,110.2 496.0,111.6 496.6,113.1 497.1,114.8 497.7,116.4 498.3,118.1 498.9,119.8 499.5,121.4 500.1,122.9 500.8,124.3 501.4,125.3 501.9,126.4 502.5,127.5 503.1,128.5 503.7,129.4 504.4,130.1 505.0,130.6 505.6,130.7 506.4,130.2 507.2,129.0 508.0,127.4 508.9,125.5 509.7,123.6 510.5,122.0 511.3,120.9 512.0,120.5 512.7,121.0 513.3,122.1 513.9,123.8 514.4,125.8 515.0,127.9 515.5,130.1 516.1,132.2 516.7,133.9 517.3,135.2 517.9,136.5 518.5,137.7 519.1,138.9 519.7,140.1 520.4,141.3 520.9,142.4 521.5,143.5 521.9,144.3 522.3,145.1 522.7,145.8 523.1,146.6 523.5,147.3 523.9,148.1 524.3,148.9 524.7,149.8 525.4,151.4 526.1,153.3 526.8,155.4 527.5,157.5 528.3,159.6 529.2,161.5 530.1,163.1 531.1,164.2 531.8,164.7 532.5,165.0 533.3,165.3 534.1,165.4 534.9,165.5 535.7,165.6 536.6,165.6 537.5,165.8 538.8,166.1 540.1,166.5 541.6,166.9 543.1,167.3 544.6,167.7 546.1,167.9 547.5,167.9 548.9,167.7 550.3,167.2 551.7,166.3 553.1,165.3 554.4,164.1 555.8,162.8 557.1,161.6 558.4,160.5 559.7,159.5 560.8,158.8 561.9,158.1 563.0,157.5 564.1,156.9 565.2,156.3 566.3,155.7 567.3,155.2 568.4,154.7 569.4,154.3 570.4,154.0 571.4,153.8 572.4,153.6 573.3,153.3 574.3,153.0 575.2,152.5 576.0,151.9 577.0,150.9 577.9,149.6 578.8,148.1 579.5,146.5 580.3,144.8 581.0,143.1 581.8,141.5 582.5,139.9 583.2,138.3 583.9,136.4 584.6,134.5 585.2,132.6 585.8,130.8 586.5,129.4 587.2,128.4 588.0,128.0 588.7,128.2 589.5,129.0 590.3,130.2 591.1,131.5 591.9,133.0 592.7,134.5 593.6,135.8 594.5,136.7 595.3,137.2 596.1,137.6 596.9,138.0 597.7,138.3 598.5,138.6 599.4,138.8 600.2,139.1 601.0,139.5 601.8,139.9 602.7,140.3 603.5,140.8 604.3,141.2 605.1,141.7 605.9,142.2 606.7,142.7 607.5,143.2 608.2,143.7 608.9,144.2 609.7,144.6 610.3,145.1 611.0,145.7 611.7,146.2 612.3,146.8 612.9,147.5 613.6,148.4 614.2,149.4 614.8,150.4 615.3,151.6 615.8,152.7 616.3,153.9 616.8,155.0 617.3,156.2 617.8,157.5 618.3,159.0 618.9,160.7 619.4,162.3 619.8,163.7 620.2,164.9 620.4,165.7 620.5,166.0" fill="none" stroke="#000" stroke-width="1.85" stroke-linejoin="round" stroke-linecap="round"/>
<polyline points="394.5,355.7 395.6,355.7 398.5,355.8 402.7,355.9 407.6,356.1 412.9,356.1 417.8,356.1 422.1,356.0 425.0,355.7 425.8,355.6 426.5,355.5 427.2,355.4 427.7,355.3 428.3,355.1 428.7,354.9 429.2,354.5 429.7,354.1 430.5,353.1 431.1,351.8 431.7,350.2 432.2,348.5 432.6,346.6 433.0,344.5 433.4,342.4 433.8,340.2 434.4,336.5 434.9,332.3 435.4,327.9 435.7,323.2 436.1,318.3 436.4,313.2 436.7,308.0 437.1,302.9 437.5,296.4 438.0,289.5 438.4,282.3 438.8,275.0 439.1,267.7 439.5,260.5 439.9,253.6 440.2,247.1 440.5,241.9 440.7,236.6 441.0,231.4 441.2,226.4 441.5,221.6 441.7,217.1 441.9,213.2 442.1,209.8 442.2,208.3 442.2,206.8 442.3,205.3 442.4,204.0 442.4,202.8 442.5,201.9 442.6,201.3 442.7,201.1 442.9,201.6 443.2,202.9 443.5,204.9 443.9,207.3 444.2,210.2 444.6,213.2 444.9,216.2 445.2,219.1 445.6,223.8 446.0,229.1 446.4,234.8 446.7,240.8 447.0,246.7 447.4,252.5 447.8,257.9 448.3,262.6 448.6,265.6 448.9,268.8 449.3,272.0 449.6,275.0 450.0,277.7 450.4,279.8 450.8,281.2 451.4,281.8 451.8,281.6 452.3,280.9 452.8,279.9 453.4,278.7 453.9,277.3 454.4,275.9 455.0,274.6 455.5,273.5 456.0,272.5 456.4,271.3 456.9,270.1 457.3,269.0 457.8,267.9 458.2,267.1 458.7,266.5 459.2,266.3 459.7,266.5 460.3,267.1 460.8,268.0 461.4,269.1 462.0,270.3 462.6,271.5 463.2,272.6 463.8,273.5 464.3,274.1 464.9,274.8 465.5,275.3 466.0,275.9 466.6,276.4 467.2,277.0 467.8,277.5 468.5,278.1 469.4,278.8 470.3,279.6 471.2,280.3 472.2,281.1 473.2,281.9 474.2,282.7 475.2,283.5 476.2,284.3 477.2,285.2 478.2,286.1 479.2,287.0 480.2,287.9 481.2,288.9 482.1,289.9 483.1,291.0 484.0,292.1 485.0,293.6 486.1,295.5 487.1,297.5 488.1,299.6 489.0,301.4 490.0,303.0 490.9,304.1 491.8,304.5 492.4,304.4 493.0,303.9 493.6,303.3 494.1,302.5 494.7,301.6 495.2,300.7 495.8,299.9 496.4,299.2 497.0,298.6 497.6,297.9 498.1,297.2 498.7,296.6 499.3,296.0 499.9,295.5 500.5,295.2 501.1,295.2 501.9,295.5 502.7,296.3 503.5,297.3 504.3,298.6 505.1,300.0 505.8,301.5 506.6,303.0 507.3,304.5 508.2,306.4 509.0,308.4 509.8,310.5 510.5,312.7 511.2,315.0 512.0,317.3 512.7,319.5 513.5,321.6 514.3,323.6 515.0,325.6 515.8,327.6 516.5,329.6 517.3,331.6 518.1,333.5 518.9,335.3 519.7,337.1 520.4,338.6 521.2,340.1 521.9,341.7 522.7,343.1 523.5,344.5 524.3,345.8 525.1,346.9 525.9,347.9 526.5,348.5 527.0,349.0 527.6,349.5 528.2,349.9 528.7,350.3 529.3,350.6 530.0,350.8 530.6,351.0 531.3,351.0 532.0,350.9 532.8,350.7 533.5,350.5 534.3,350.2 535.1,349.9 535.9,349.6 536.8,349.5 537.9,349.5 539.2,349.5 540.5,349.7 541.8,349.9 543.1,350.0 544.4,350.1 545.6,350.1 546.7,349.9 547.6,349.6 548.5,349.2 549.3,348.7 550.1,348.2 550.8,347.6 551.6,347.0 552.4,346.5 553.2,346.0 554.0,345.6 554.8,345.2 555.7,344.9 556.5,344.6 557.3,344.2 558.1,343.8 558.9,343.3 559.7,342.7 560.7,341.6 561.7,340.3 562.7,338.8 563.6,337.1 564.5,335.5 565.5,333.8 566.4,332.2 567.3,330.8 568.1,329.6 569.0,328.5 569.8,327.4 570.6,326.3 571.4,325.3 572.2,324.2 573.0,323.2 573.8,322.1 574.5,321.1 575.2,320.1 575.9,319.1 576.6,318.1 577.3,317.1 577.9,316.2 578.6,315.3 579.3,314.5 579.8,313.9 580.4,313.3 580.9,312.6 581.4,312.0 582.0,311.5 582.5,311.1 583.1,310.9 583.6,310.8 584.3,311.0 584.9,311.5 585.6,312.3 586.2,313.2 586.9,314.2 587.6,315.1 588.3,316.0 589.0,316.7 589.7,317.2 590.4,317.6 591.1,318.0 591.8,318.3 592.5,318.7 593.2,319.0 593.9,319.5 594.5,320.0 595.1,320.7 595.7,321.4 596.2,322.2 596.8,323.1 597.3,323.9 597.8,324.8 598.3,325.7 598.8,326.5 599.3,327.3 599.8,328.2 600.3,329.1 600.8,330.0 601.3,330.8 601.9,331.6 602.5,332.4 603.1,333.0 603.7,333.5 604.4,333.8 605.1,334.1 605.8,334.4 606.5,334.6 607.2,334.9 607.9,335.2 608.6,335.6 609.3,336.1 610.0,336.7 610.7,337.3 611.3,337.9 612.0,338.6 612.6,339.2 613.3,339.9 614.0,340.6 614.9,341.5 615.9,342.5 617.0,343.5 618.0,344.6 619.0,345.6 619.8,346.4 620.3,346.9 620.5,347.1" fill="none" stroke="#000" stroke-width="1.85" stroke-linejoin="round" stroke-linecap="round"/>
<polyline points="394.5,539.3 395.3,539.3 397.5,539.4 400.7,539.5 404.6,539.5 408.7,539.6 412.6,539.6 416.1,539.5 418.7,539.3 419.7,539.2 420.6,539.1 421.4,539.0 422.2,538.9 422.9,538.7 423.6,538.5 424.2,538.2 424.9,537.8 425.6,537.3 426.3,536.7 426.9,536.1 427.5,535.4 428.0,534.6 428.5,533.7 429.0,532.7 429.5,531.6 430.2,529.2 430.8,526.3 431.2,523.1 431.6,519.5 431.8,515.7 432.0,511.8 432.3,507.8 432.6,503.8 433.1,498.3 433.5,492.4 433.9,486.3 434.3,480.0 434.7,473.6 435.0,467.1 435.4,460.7 435.7,454.4 436.0,448.1 436.3,441.5 436.5,434.9 436.7,428.3 437.0,421.8 437.2,415.7 437.5,410.1 437.8,405.0 438.0,401.9 438.2,398.7 438.4,395.5 438.7,392.5 438.9,389.9 439.2,387.8 439.4,386.4 439.7,385.9 439.9,386.2 440.2,387.1 440.5,388.5 440.7,390.3 441.0,392.3 441.3,394.5 441.5,396.8 441.8,398.9 442.2,402.9 442.6,407.7 443.0,412.9 443.3,418.4 443.7,424.0 444.0,429.4 444.4,434.5 444.9,439.0 445.2,442.1 445.5,445.3 445.7,448.6 446.0,451.7 446.3,454.5 446.7,456.7 447.3,458.3 448.0,459.0 448.6,458.8 449.4,458.1 450.2,457.0 451.0,455.7 451.9,454.4 452.7,453.2 453.5,452.4 454.2,452.0 454.6,452.0 455.0,452.2 455.4,452.4 455.8,452.7 456.2,453.1 456.5,453.5 456.9,453.9 457.3,454.4 458.0,455.4 458.6,456.7 459.3,458.2 460.0,459.8 460.6,461.3 461.3,462.6 461.9,463.4 462.5,463.7 463.1,463.3 463.6,462.3 464.1,460.9 464.5,459.2 465.0,457.4 465.5,455.7 466.0,454.1 466.5,452.9 466.9,452.2 467.2,451.5 467.6,450.8 468.0,450.2 468.4,449.6 468.8,449.2 469.2,449.0 469.6,448.9 470.2,449.3 470.9,450.2 471.6,451.6 472.2,453.2 472.9,455.1 473.6,457.0 474.3,458.9 474.9,460.6 475.6,462.4 476.3,464.4 477.0,466.4 477.7,468.4 478.3,470.4 479.0,472.4 479.7,474.3 480.4,476.0 480.9,477.4 481.5,478.9 482.0,480.4 482.5,481.8 483.1,483.1 483.6,484.2 484.3,484.9 485.0,485.3 485.8,485.1 486.8,484.2 487.8,482.9 488.8,481.5 489.9,480.0 490.9,478.7 491.9,477.9 492.8,477.6 493.6,478.0 494.3,478.9 495.0,480.1 495.7,481.5 496.3,483.0 497.0,484.5 497.6,485.8 498.3,486.8 498.8,487.3 499.2,487.9 499.7,488.4 500.1,488.9 500.6,489.3 501.1,489.6 501.5,489.8 502.0,489.9 502.5,489.8 502.9,489.4 503.4,488.8 503.9,488.2 504.4,487.7 504.8,487.2 505.3,486.9 505.7,486.8 506.3,487.2 506.8,488.1 507.4,489.4 507.8,490.9 508.3,492.6 508.8,494.3 509.2,496.0 509.7,497.6 510.3,499.4 510.8,501.3 511.4,503.3 511.9,505.4 512.5,507.4 513.1,509.4 513.7,511.3 514.4,513.1 515.1,514.6 515.7,516.1 516.4,517.5 517.2,518.9 517.9,520.3 518.7,521.6 519.6,522.8 520.5,523.9 521.4,524.8 522.3,525.8 523.2,526.6 524.2,527.4 525.2,528.1 526.2,528.8 527.3,529.4 528.3,530.0 529.2,530.4 530.1,530.8 531.1,531.2 532.0,531.5 533.0,531.7 533.9,531.9 534.9,532.1 536.0,532.2 537.4,532.3 538.9,532.3 540.5,532.3 542.0,532.2 543.6,532.0 545.1,531.8 546.5,531.5 547.8,531.2 548.6,530.9 549.3,530.6 550.0,530.3 550.7,529.9 551.3,529.5 551.9,529.0 552.6,528.5 553.2,528.0 554.0,527.3 554.8,526.4 555.6,525.5 556.4,524.6 557.2,523.6 558.1,522.6 558.9,521.7 559.7,520.8 560.5,520.0 561.3,519.3 562.2,518.6 563.0,518.0 563.8,517.3 564.6,516.6 565.4,515.8 566.2,514.9 567.1,513.8 568.0,512.5 568.8,511.2 569.7,509.8 570.5,508.4 571.3,507.0 572.0,505.5 572.7,504.1 573.4,502.6 573.9,501.1 574.5,499.6 575.0,498.0 575.5,496.4 576.0,494.9 576.5,493.5 577.1,492.1 577.6,491.0 578.0,489.7 578.5,488.5 579.0,487.2 579.5,486.2 580.0,485.3 580.5,484.7 581.0,484.5 581.6,484.7 582.1,485.3 582.7,486.1 583.4,487.2 584.0,488.4 584.6,489.7 585.2,491.0 585.8,492.1 586.5,493.4 587.2,494.7 587.8,496.1 588.5,497.5 589.2,498.9 589.8,500.3 590.5,501.7 591.2,503.0 591.8,504.3 592.5,505.7 593.1,507.1 593.7,508.5 594.4,509.8 595.1,511.0 595.8,511.9 596.6,512.7 597.2,513.0 597.9,513.2 598.6,513.3 599.3,513.3 600.0,513.4 600.8,513.4 601.4,513.5 602.1,513.8 602.8,514.3 603.5,514.9 604.2,515.5 604.9,516.3 605.5,517.0 606.2,517.8 606.8,518.6 607.5,519.3 608.2,520.0 608.8,520.7 609.5,521.4 610.1,522.0 610.8,522.7 611.5,523.4 612.2,524.0 612.9,524.7 613.9,525.5 615.0,526.3 616.3,527.2 617.5,528.1 618.7,528.9 619.6,529.5 620.3,529.9 620.5,530.1" fill="none" stroke="#000" stroke-width="1.85" stroke-linejoin="round" stroke-linecap="round"/>
</svg></body></html>
